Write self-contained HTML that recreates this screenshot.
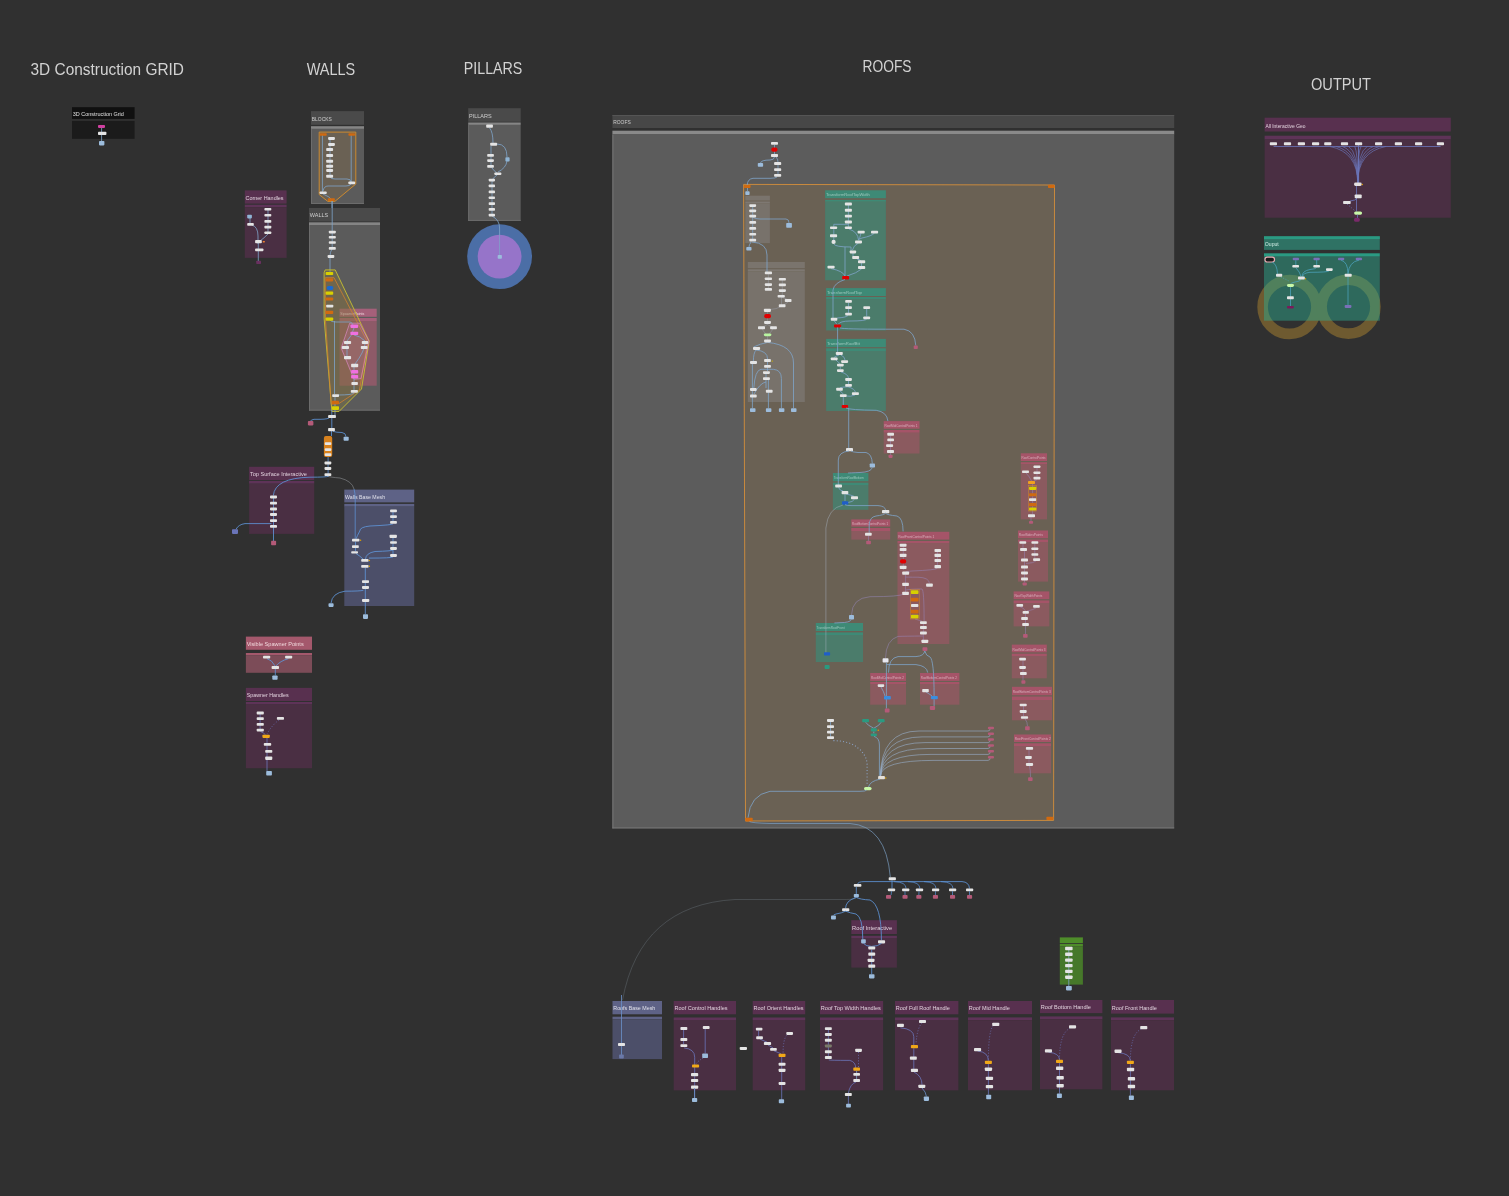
<!DOCTYPE html>
<html><head><meta charset="utf-8"><title>Network</title>
<style>html,body{margin:0;padding:0;background:#303030;overflow:hidden}
svg{display:block;font-family:"Liberation Sans",sans-serif;will-change:transform}</style></head>
<body><svg width="1509" height="1196" viewBox="0 0 1509 1196">
<rect width="1509" height="1196" fill="#303030"/>
<text x="30.5" y="75.4" font-size="17" fill="#d2d2d2" text-anchor="start" textLength="153.5" lengthAdjust="spacingAndGlyphs" >3D Construction GRID</text>
<text x="306.7" y="75.3" font-size="17" fill="#d2d2d2" text-anchor="start" textLength="48.5" lengthAdjust="spacingAndGlyphs" >WALLS</text>
<text x="463.8" y="74" font-size="17" fill="#d2d2d2" text-anchor="start" textLength="58.5" lengthAdjust="spacingAndGlyphs" >PILLARS</text>
<text x="862.5" y="71.9" font-size="17" fill="#d2d2d2" text-anchor="start" textLength="49" lengthAdjust="spacingAndGlyphs" >ROOFS</text>
<text x="1311" y="89.8" font-size="17" fill="#d2d2d2" text-anchor="start" textLength="60" lengthAdjust="spacingAndGlyphs" >OUTPUT</text>
<rect x="72.0" y="107.2" width="62.6" height="11.7" fill="#101010" />
<rect x="72.0" y="120.9" width="62.6" height="0.0" fill="#101010" />
<rect x="72.0" y="120.9" width="62.6" height="17.9" fill="#1b1b1b" />
<text x="72.8" y="115.6" font-size="5" fill="#e0e0e0" text-anchor="start" textLength="51" lengthAdjust="spacingAndGlyphs" >3D Construction Grid</text>
<rect x="311.0" y="111.1" width="53.0" height="13.7" fill="#4a4a4a" />
<rect x="311.0" y="126.2" width="53.0" height="2.7" fill="#858585" />
<rect x="311.0" y="128.9" width="53.0" height="75.1" fill="#5b5b5b" />
<rect x="311.0" y="128.9" width="1.0" height="75.1" fill="#6c6c6c" />
<rect x="311.0" y="203.0" width="53.0" height="1.0" fill="#6c6c6c" />
<text x="311.8" y="120.6" font-size="5.5" fill="#cfcfcf" text-anchor="start" textLength="20" lengthAdjust="spacingAndGlyphs" >BLOCKS</text>
<rect x="309.0" y="208.0" width="71.0" height="13.5" fill="#4a4a4a" />
<rect x="309.0" y="222.3" width="71.0" height="2.7" fill="#858585" />
<rect x="309.0" y="225.0" width="71.0" height="185.6" fill="#5b5b5b" />
<rect x="309.0" y="225.0" width="1.0" height="185.6" fill="#6c6c6c" />
<rect x="309.0" y="409.6" width="71.0" height="1.0" fill="#6c6c6c" />
<text x="309.8" y="217.4" font-size="5.5" fill="#cfcfcf" text-anchor="start" >WALLS</text>
<rect x="244.8" y="190.4" width="41.8" height="13.2" fill="#58304f" />
<rect x="244.8" y="204.7" width="41.8" height="2.5" fill="#5e3358" />
<rect x="244.8" y="207.2" width="41.8" height="50.7" fill="#4a2f43" />
<text x="245.60000000000002" y="199.7" font-size="5.5" fill="#e0d0dc" text-anchor="start" textLength="38" lengthAdjust="spacingAndGlyphs" >Corner Handles</text>
<rect x="339.5" y="308.7" width="37.2" height="8.1" fill="#a5607a" />
<rect x="339.5" y="318.0" width="37.2" height="3.0" fill="#a5607a" />
<rect x="339.5" y="321.0" width="37.2" height="64.7" fill="#8d5a68" />
<text x="340.3" y="314.7" font-size="3.5" fill="#f0d8e0" text-anchor="start" textLength="24" lengthAdjust="spacingAndGlyphs" >SpawnerPoints</text>
<rect x="468.2" y="108.2" width="52.5" height="13.6" fill="#4a4a4a" />
<rect x="468.2" y="122.5" width="52.5" height="2.4" fill="#858585" />
<rect x="468.2" y="124.9" width="52.5" height="96.0" fill="#5b5b5b" />
<rect x="468.2" y="124.9" width="1.0" height="96.0" fill="#6c6c6c" />
<rect x="468.2" y="219.9" width="52.5" height="1.0" fill="#6c6c6c" />
<text x="469.0" y="117.7" font-size="5.5" fill="#cfcfcf" text-anchor="start" >PILLARS</text>
<rect x="249.1" y="466.8" width="65.1" height="13.2" fill="#58304f" />
<rect x="249.1" y="480.9" width="65.1" height="2.8" fill="#5e3358" />
<rect x="249.1" y="483.7" width="65.1" height="50.2" fill="#4a2f43" />
<text x="249.9" y="476.1" font-size="5.5" fill="#e0d0dc" text-anchor="start" textLength="57" lengthAdjust="spacingAndGlyphs" >Top Surface Interactive</text>
<rect x="344.3" y="489.6" width="69.9" height="12.8" fill="#5e6286" />
<rect x="344.3" y="503.9" width="69.9" height="2.8" fill="#5e6286" />
<rect x="344.3" y="506.7" width="69.9" height="99.3" fill="#4c4f69" />
<text x="345.1" y="498.7" font-size="5.5" fill="#e0e0ea" text-anchor="start" textLength="40" lengthAdjust="spacingAndGlyphs" >Walls Base Mesh</text>
<rect x="245.9" y="636.6" width="66.1" height="13.2" fill="#a4586c" />
<rect x="245.9" y="653.0" width="66.1" height="2.5" fill="#a4586c" />
<rect x="245.9" y="655.5" width="66.1" height="17.3" fill="#7c4c58" />
<text x="246.70000000000002" y="645.9" font-size="5.5" fill="#f0d8dc" text-anchor="start" textLength="57" lengthAdjust="spacingAndGlyphs" >Visible Spawner Points</text>
<rect x="245.9" y="687.9" width="66.1" height="13.1" fill="#58304f" />
<rect x="245.9" y="702.0" width="66.1" height="2.5" fill="#5e3358" />
<rect x="245.9" y="704.5" width="66.1" height="63.7" fill="#4a2f43" />
<text x="246.70000000000002" y="697.1" font-size="5.5" fill="#e0d0dc" text-anchor="start" textLength="42" lengthAdjust="spacingAndGlyphs" >Spawner Handles</text>
<circle cx="499.6" cy="256.7" r="32.4" fill="#4b6ea6"/>
<circle cx="499.6" cy="256.7" r="21.9" fill="#9674c9"/>
<rect x="612.4" y="115.0" width="561.8" height="13.0" fill="#474747" />
<rect x="612.4" y="130.7" width="561.8" height="3.8" fill="#8a8a8a" />
<rect x="612.4" y="134.5" width="561.8" height="693.9" fill="#5c5c5c" />
<text x="613.1999999999999" y="124.2" font-size="5.5" fill="#cfcfcf" text-anchor="start" textLength="17.5" lengthAdjust="spacingAndGlyphs" >ROOFS</text>
<rect x="612.4" y="134.5" width="1.0" height="693.9" fill="#767676" />
<rect x="612.4" y="827.4" width="561.8" height="1.0" fill="#767676" />
<rect x="612.4" y="115.0" width="561.8" height="1.0" fill="#555555" />
<polygon points="743.6,184.4 1054.5,185 1053.6,820.4 745.5,821" fill="#6a6154" stroke="#c98a3e" stroke-width="1"/>
<rect x="745.3" y="195.7" width="24.6" height="4.8" fill="#7a746d" />
<rect x="745.3" y="201.5" width="24.6" height="2.0" fill="#7e7872" />
<rect x="745.3" y="203.5" width="24.6" height="39.6" fill="#78726b" />
<rect x="747.8" y="262.0" width="57.0" height="6.2" fill="#7a746d" />
<rect x="747.8" y="269.3" width="57.0" height="2.1" fill="#7e7872" />
<rect x="747.8" y="271.4" width="57.0" height="130.6" fill="#78726b" />
<rect x="825.1" y="190.3" width="60.8" height="7.9" fill="#3e8a76" />
<rect x="825.1" y="199.9" width="60.8" height="1.9" fill="#3e8a76" />
<rect x="825.1" y="201.8" width="60.8" height="78.5" fill="#4b7c6b" />
<text x="825.9" y="196.4" font-size="4" fill="#9cc8bc" text-anchor="start" textLength="44" lengthAdjust="spacingAndGlyphs" >TransformRoofTopWidth</text>
<rect x="826.1" y="288.1" width="59.8" height="7.9" fill="#3e8a76" />
<rect x="826.1" y="297.0" width="59.8" height="2.6" fill="#3e8a76" />
<rect x="826.1" y="299.6" width="59.8" height="30.9" fill="#4b7c6b" />
<text x="826.9" y="294.2" font-size="4" fill="#9cc8bc" text-anchor="start" textLength="35" lengthAdjust="spacingAndGlyphs" >TransformRoofTop</text>
<rect x="826.1" y="338.9" width="59.8" height="8.3" fill="#3e8a76" />
<rect x="826.1" y="348.3" width="59.8" height="2.7" fill="#3e8a76" />
<rect x="826.1" y="351.0" width="59.8" height="60.0" fill="#4b7c6b" />
<text x="826.9" y="345.2" font-size="4" fill="#9cc8bc" text-anchor="start" textLength="33" lengthAdjust="spacingAndGlyphs" >TransformRoofBtt</text>
<rect x="883.7" y="421.1" width="35.8" height="7.6" fill="#a55468" />
<rect x="883.7" y="430.0" width="35.8" height="2.8" fill="#a55468" />
<rect x="883.7" y="432.8" width="35.8" height="20.7" fill="#8b5a5f" />
<text x="884.5" y="426.9" font-size="3.5" fill="#d8b0bc" text-anchor="start" textLength="33" lengthAdjust="spacingAndGlyphs" >RoofMidControlPoints 1</text>
<rect x="832.9" y="473.0" width="35.5" height="8.3" fill="#3e8a76" />
<rect x="832.9" y="482.6" width="35.5" height="2.4" fill="#3e8a76" />
<rect x="832.9" y="485.0" width="35.5" height="24.8" fill="#4b7c6b" />
<text x="833.6999999999999" y="479.1" font-size="3.5" fill="#9cc8bc" text-anchor="start" textLength="30" lengthAdjust="spacingAndGlyphs" >TransformRoofBottom</text>
<rect x="851.3" y="519.4" width="38.9" height="7.2" fill="#a55468" />
<rect x="851.3" y="528.0" width="38.9" height="3.0" fill="#a55468" />
<rect x="851.3" y="531.0" width="38.9" height="8.6" fill="#8b5a5f" />
<text x="852.0999999999999" y="525.0" font-size="3.5" fill="#d8b0bc" text-anchor="start" textLength="36" lengthAdjust="spacingAndGlyphs" >RoofBottomControlPoints 1</text>
<rect x="897.5" y="531.8" width="51.8" height="7.8" fill="#a55468" />
<rect x="897.5" y="541.0" width="51.8" height="2.5" fill="#a55468" />
<rect x="897.5" y="543.5" width="51.8" height="100.5" fill="#8b5a5f" />
<text x="898.3" y="537.7" font-size="3.5" fill="#d8b0bc" text-anchor="start" textLength="36" lengthAdjust="spacingAndGlyphs" >RoofFrontControlPoints 1</text>
<rect x="815.8" y="623.0" width="47.2" height="8.0" fill="#3e8a76" />
<rect x="815.8" y="632.4" width="47.2" height="2.6" fill="#3e8a76" />
<rect x="815.8" y="635.0" width="47.2" height="27.0" fill="#4b7c6b" />
<text x="816.5999999999999" y="629.0" font-size="3.5" fill="#9cc8bc" text-anchor="start" textLength="28" lengthAdjust="spacingAndGlyphs" >TransformRoofFront</text>
<rect x="870.2" y="673.0" width="35.8" height="7.9" fill="#a55468" />
<rect x="870.2" y="682.0" width="35.8" height="2.0" fill="#a55468" />
<rect x="870.2" y="684.0" width="35.8" height="20.7" fill="#8b5a5f" />
<text x="871.0" y="678.9" font-size="3.5" fill="#d8b0bc" text-anchor="start" textLength="33" lengthAdjust="spacingAndGlyphs" >RoofMidControlPoints 2</text>
<rect x="920.0" y="673.0" width="39.4" height="7.9" fill="#a55468" />
<rect x="920.0" y="682.0" width="39.4" height="2.0" fill="#a55468" />
<rect x="920.0" y="684.0" width="39.4" height="20.7" fill="#8b5a5f" />
<text x="920.8" y="678.9" font-size="3.5" fill="#d8b0bc" text-anchor="start" textLength="36" lengthAdjust="spacingAndGlyphs" >RoofBottomControlPoints 2</text>
<rect x="1020.8" y="453.3" width="26.2" height="7.7" fill="#a55468" />
<rect x="1020.8" y="462.2" width="26.2" height="2.3" fill="#a55468" />
<rect x="1020.8" y="464.5" width="26.2" height="54.9" fill="#8b5a5f" />
<text x="1021.5999999999999" y="459.1" font-size="3.5" fill="#d8b0bc" text-anchor="start" textLength="24" lengthAdjust="spacingAndGlyphs" >RoofControlPoints</text>
<rect x="1018.0" y="530.5" width="30.0" height="7.8" fill="#a55468" />
<rect x="1018.0" y="539.5" width="30.0" height="2.5" fill="#a55468" />
<rect x="1018.0" y="542.0" width="30.0" height="39.6" fill="#8b5a5f" />
<text x="1018.8" y="536.4" font-size="3.5" fill="#d8b0bc" text-anchor="start" textLength="24" lengthAdjust="spacingAndGlyphs" >RoofSidesPoints</text>
<rect x="1013.6" y="591.4" width="35.7" height="7.8" fill="#a55468" />
<rect x="1013.6" y="600.4" width="35.7" height="2.6" fill="#a55468" />
<rect x="1013.6" y="603.0" width="35.7" height="23.4" fill="#8b5a5f" />
<text x="1014.4" y="597.3" font-size="3.5" fill="#d8b0bc" text-anchor="start" textLength="28" lengthAdjust="spacingAndGlyphs" >RoofTopWidthPoints</text>
<rect x="1011.8" y="644.6" width="35.0" height="7.8" fill="#a55468" />
<rect x="1011.8" y="653.6" width="35.0" height="2.4" fill="#a55468" />
<rect x="1011.8" y="656.0" width="35.0" height="22.3" fill="#8b5a5f" />
<text x="1012.5999999999999" y="650.5" font-size="3.5" fill="#d8b0bc" text-anchor="start" textLength="33" lengthAdjust="spacingAndGlyphs" >RoofMidControlPoints 3</text>
<rect x="1012.0" y="686.8" width="40.0" height="8.5" fill="#a55468" />
<rect x="1012.0" y="696.5" width="40.0" height="3.5" fill="#a55468" />
<rect x="1012.0" y="700.0" width="40.0" height="20.3" fill="#8b5a5f" />
<text x="1012.8" y="693.0" font-size="3.5" fill="#d8b0bc" text-anchor="start" textLength="38" lengthAdjust="spacingAndGlyphs" >RoofBottomControlPoints 3</text>
<rect x="1014.0" y="734.5" width="37.0" height="7.5" fill="#a55468" />
<rect x="1014.0" y="743.3" width="37.0" height="2.7" fill="#a55468" />
<rect x="1014.0" y="746.0" width="37.0" height="27.3" fill="#8b5a5f" />
<text x="1014.8" y="740.2" font-size="3.5" fill="#d8b0bc" text-anchor="start" textLength="36" lengthAdjust="spacingAndGlyphs" >RoofFrontControlPoints 2</text>
<rect x="1264.6" y="117.7" width="186.2" height="13.8" fill="#58304f" />
<rect x="1264.6" y="135.7" width="186.2" height="3.8" fill="#5e3358" />
<rect x="1264.6" y="139.5" width="186.2" height="78.2" fill="#4a2f43" />
<text x="1265.3999999999999" y="127.5" font-size="6" fill="#e0d0dc" text-anchor="start" textLength="40" lengthAdjust="spacingAndGlyphs" >All  Interactive Geo</text>
<circle cx="1289.5" cy="307" r="26.9" fill="none" stroke="#6e5a30" stroke-width="10.6"/><circle cx="1348.5" cy="306.7" r="26.9" fill="none" stroke="#6e5a30" stroke-width="10.6"/>
<rect x="1264.0" y="236.3" width="115.8" height="13.6" fill="#2f7264" />
<rect x="1264.0" y="253.3" width="115.8" height="3.2" fill="#2a9a82" />
<rect x="1264.0" y="256.5" width="115.8" height="64.2" fill="rgba(44,175,146,0.45)" />
<text x="1264.8" y="246.0" font-size="6" fill="#d0ece4" text-anchor="start" textLength="14" lengthAdjust="spacingAndGlyphs" >Ouput</text>
<rect x="1264.0" y="236.3" width="115.8" height="2.8" fill="#2a9a82" />
<rect x="851.3" y="920.2" width="45.6" height="13.8" fill="#58304f" />
<rect x="851.3" y="935.8" width="45.6" height="2.2" fill="#5e3358" />
<rect x="851.3" y="938.0" width="45.6" height="29.6" fill="#4a2f43" />
<text x="852.0999999999999" y="929.8" font-size="5.5" fill="#e0d0dc" text-anchor="start" textLength="40" lengthAdjust="spacingAndGlyphs" >Roof Interactive</text>
<rect x="1059.8" y="937.4" width="23.1" height="5.8" fill="#4e8c2a" />
<rect x="1059.8" y="944.0" width="23.1" height="2.5" fill="#4e8c2a" />
<rect x="1059.8" y="946.5" width="23.1" height="38.1" fill="#46782a" />
<rect x="612.5" y="1001.0" width="49.5" height="13.3" fill="#5e6286" />
<rect x="612.5" y="1016.7" width="49.5" height="2.6" fill="#5e6286" />
<rect x="612.5" y="1019.3" width="49.5" height="39.8" fill="#4c4f69" />
<text x="613.3" y="1010.3" font-size="5.5" fill="#e0e0ea" text-anchor="start" textLength="42" lengthAdjust="spacingAndGlyphs" >Roofs Base Mesh</text>
<rect x="673.7" y="1001.0" width="62.3" height="13.3" fill="#58304f" />
<rect x="673.7" y="1017.5" width="62.3" height="2.5" fill="#5e3358" />
<rect x="673.7" y="1020.0" width="62.3" height="70.4" fill="#4a2f43" />
<text x="674.5" y="1010.3" font-size="5.5" fill="#e0d0dc" text-anchor="start" textLength="53" lengthAdjust="spacingAndGlyphs" >Roof Control Handles</text>
<rect x="752.7" y="1001.0" width="52.5" height="13.3" fill="#58304f" />
<rect x="752.7" y="1017.5" width="52.5" height="2.5" fill="#5e3358" />
<rect x="752.7" y="1020.0" width="52.5" height="70.4" fill="#4a2f43" />
<text x="753.5" y="1010.3" font-size="5.5" fill="#e0d0dc" text-anchor="start" textLength="50" lengthAdjust="spacingAndGlyphs" >Roof Orient Handles</text>
<rect x="820.0" y="1001.0" width="63.1" height="13.3" fill="#58304f" />
<rect x="820.0" y="1017.5" width="63.1" height="2.5" fill="#5e3358" />
<rect x="820.0" y="1020.0" width="63.1" height="70.4" fill="#4a2f43" />
<text x="820.8" y="1010.3" font-size="5.5" fill="#e0d0dc" text-anchor="start" textLength="60" lengthAdjust="spacingAndGlyphs" >Roof Top Width Handles</text>
<rect x="895.0" y="1001.0" width="63.4" height="13.3" fill="#58304f" />
<rect x="895.0" y="1017.5" width="63.4" height="2.5" fill="#5e3358" />
<rect x="895.0" y="1020.0" width="63.4" height="70.4" fill="#4a2f43" />
<text x="895.8" y="1010.3" font-size="5.5" fill="#e0d0dc" text-anchor="start" textLength="54" lengthAdjust="spacingAndGlyphs" >Roof Full Roof Handle</text>
<rect x="968.0" y="1001.0" width="64.0" height="13.1" fill="#58304f" />
<rect x="968.0" y="1017.4" width="64.0" height="2.8" fill="#5e3358" />
<rect x="968.0" y="1020.2" width="64.0" height="70.1" fill="#4a2f43" />
<text x="968.8" y="1010.2" font-size="5.5" fill="#e0d0dc" text-anchor="start" textLength="41" lengthAdjust="spacingAndGlyphs" >Roof Mid Handle</text>
<rect x="1040.0" y="1000.0" width="62.4" height="13.1" fill="#58304f" />
<rect x="1040.0" y="1016.4" width="62.4" height="2.8" fill="#5e3358" />
<rect x="1040.0" y="1019.2" width="62.4" height="70.1" fill="#4a2f43" />
<text x="1040.8" y="1009.2" font-size="5.5" fill="#e0d0dc" text-anchor="start" textLength="50" lengthAdjust="spacingAndGlyphs" >Roof Bottom Handle</text>
<rect x="1111.0" y="1000.0" width="63.0" height="13.6" fill="#58304f" />
<rect x="1111.0" y="1017.4" width="63.0" height="2.8" fill="#5e3358" />
<rect x="1111.0" y="1020.2" width="63.0" height="70.1" fill="#4a2f43" />
<text x="1111.8" y="1009.5" font-size="5.5" fill="#e0d0dc" text-anchor="start" textLength="45" lengthAdjust="spacingAndGlyphs" >Roof Front Handle</text>
<polygon points="319.2,132.1 355.8,132.1 355.8,184.0 334.9,201.4 327.8,201.4 319.2,194.6" fill="#6a6154" fill-opacity="1" stroke="#cc8a30" stroke-width="1" stroke-opacity="1"/>
<path d="M322.4,135 V192" fill="none" stroke="#7ea3c8" stroke-width="0.9" stroke-opacity="0.9" />
<path d="M351.2,135 V182" fill="none" stroke="#7ea3c8" stroke-width="0.9" stroke-opacity="0.9" />
<path d="M330,139 V176" fill="none" stroke="#7ea3c8" stroke-width="0.9" stroke-opacity="0.9" />
<path d="M330,177 Q331,179 335,179 H347 Q351,179 351,182" fill="none" stroke="#7ea3c8" stroke-width="0.9" stroke-opacity="0.9" />
<path d="M351,184 Q350,186 346,186 H328 Q324,186 323,191" fill="none" stroke="#7ea3c8" stroke-width="0.9" stroke-opacity="0.9" />
<path d="M323,194 Q330,197 331,199" fill="none" stroke="#7ea3c8" stroke-width="0.9" stroke-opacity="0.9" />
<path d="M332,201 V208" fill="none" stroke="#7ea3c8" stroke-width="0.9" stroke-opacity="0.9" />
<rect x="319.6" y="133.2" width="7.1" height="2.5" rx="0.8" fill="#d06a10"/>
<rect x="348.4" y="133.2" width="6.7" height="2.5" rx="0.8" fill="#d06a10"/>
<rect x="328.1" y="137.1" width="6.8" height="2.8" rx="0.8" fill="#e4e4e4"/>
<rect x="328.1" y="143.1" width="6.8" height="2.8" rx="0.8" fill="#e4e4e4"/>
<rect x="326.2" y="148.1" width="6.9" height="2.9" rx="0.8" fill="#e4e4e4"/>
<rect x="326.2" y="154.1" width="6.9" height="2.9" rx="0.8" fill="#e4e4e4"/>
<rect x="326.2" y="159.8" width="6.9" height="2.9" rx="0.8" fill="#e4e4e4"/>
<rect x="326.2" y="164.8" width="6.9" height="2.9" rx="0.8" fill="#e4e4e4"/>
<rect x="326.2" y="169.0" width="6.9" height="2.9" rx="0.8" fill="#e4e4e4"/>
<rect x="326.2" y="174.8" width="6.9" height="2.9" rx="0.8" fill="#e4e4e4"/>
<rect x="348.4" y="181.5" width="6.7" height="2.8" rx="0.8" fill="#e4e4e4"/>
<rect x="319.6" y="191.5" width="7.1" height="2.5" rx="0.8" fill="#e4e4e4"/>
<rect x="327.8" y="198.2" width="7.1" height="2.8" rx="0.8" fill="#d06a10"/>
<path d="M332.2,201 V249" fill="none" stroke="#7ea3c8" stroke-width="0.9" stroke-opacity="0.9" />
<path d="M332,249 Q330,252 330,256 V272" fill="none" stroke="#7ea3c8" stroke-width="0.9" stroke-opacity="0.9" />
<rect x="328.8" y="230.8" width="7.0" height="2.6" rx="0.8" fill="#e4e4e4"/>
<rect x="328.8" y="236.0" width="7.0" height="2.6" rx="0.8" fill="#e4e4e4"/>
<rect x="328.8" y="241.2" width="7.0" height="2.6" rx="0.8" fill="#e4e4e4"/>
<rect x="328.8" y="247.1" width="7.0" height="2.6" rx="0.8" fill="#e4e4e4"/>
<rect x="327.6" y="254.9" width="6.7" height="3.0" rx="0.8" fill="#e4e4e4"/>
<polygon points="325.2,269.9 335.2,269.9 369.2,341.0 361.5,389.0 339.0,411.5 331.9,411.5 324.1,318.2 324.1,272.7" fill="#857a40" fill-opacity="0.35" stroke="#c8c030" stroke-width="0.9" stroke-opacity="1"/>
<polygon points="325.2,277.7 334.0,277.7 367.5,342.0 359.5,390.0 339.0,403.5 331.2,404.2 325.5,321.0" fill="#8a6a40" fill-opacity="0.2" stroke="#d08030" stroke-width="0.8" stroke-opacity="1"/>
<polygon points="349.7,323.2 359.6,323.2 368.9,341.0 361.0,378.6 354.0,379.3 341.2,348.0" fill="#c070a0" fill-opacity="0.25" stroke="#d888c0" stroke-width="0.7" stroke-opacity="1"/>
<path d="M330,320 Q331,322 336,322 H350 Q352,322 353,325" fill="none" stroke="#7ea3c8" stroke-width="0.9" stroke-opacity="0.9" />
<path d="M334.5,321 V394" fill="none" stroke="#7ea3c8" stroke-width="0.9" stroke-opacity="0.9" />
<path d="M354,328 Q352,336 347,341" fill="none" stroke="#7ea3c8" stroke-width="0.9" stroke-opacity="0.9" />
<path d="M354,335 Q360,336 365,341" fill="none" stroke="#7ea3c8" stroke-width="0.9" stroke-opacity="0.9" />
<path d="M347,344 V356" fill="none" stroke="#7ea3c8" stroke-width="0.9" stroke-opacity="0.9" />
<path d="M365,344 Q364,352 355,364" fill="none" stroke="#7ea3c8" stroke-width="0.9" stroke-opacity="0.9" />
<path d="M354,367 V382" fill="none" stroke="#7ea3c8" stroke-width="0.9" stroke-opacity="0.9" />
<path d="M354,385 V390" fill="none" stroke="#7ea3c8" stroke-width="0.9" stroke-opacity="0.9" />
<path d="M354,393 Q352,395 338,395" fill="none" stroke="#7ea3c8" stroke-width="0.9" stroke-opacity="0.9" />
<path d="M335,397 V401" fill="none" stroke="#7ea3c8" stroke-width="0.9" stroke-opacity="0.9" />
<path d="M335,404 V406" fill="none" stroke="#7ea3c8" stroke-width="0.9" stroke-opacity="0.9" />
<path d="M335,410 V418" fill="none" stroke="#7ea3c8" stroke-width="0.9" stroke-opacity="0.9" />
<rect x="325.6" y="271.9" width="7.6" height="3.2" rx="0.8" fill="#d8d000"/>
<rect x="325.6" y="278.2" width="7.6" height="3.2" rx="0.8" fill="#d06a10"/>
<rect x="325.6" y="291.6" width="7.6" height="3.2" rx="0.8" fill="#d8d000"/>
<rect x="325.6" y="297.4" width="7.6" height="3.2" rx="0.8" fill="#d06a10"/>
<rect x="325.6" y="310.8" width="7.6" height="3.2" rx="0.8" fill="#d06a10"/>
<rect x="325.6" y="317.5" width="7.6" height="3.2" rx="0.8" fill="#d8d000"/>
<rect x="326.7" y="286.1" width="6.7" height="3.8" rx="2" fill="#1a6ad0"/>
<rect x="326.2" y="304.7" width="7.1" height="2.9" rx="0.8" fill="#e4e4e4"/>
<rect x="350.4" y="324.6" width="7.8" height="3.3" rx="0.8" fill="#f070e0"/>
<rect x="350.4" y="331.7" width="7.8" height="3.3" rx="0.8" fill="#f070e0"/>
<rect x="344.0" y="341.0" width="7.1" height="3.1" rx="0.8" fill="#e4e4e4"/>
<rect x="361.8" y="341.0" width="6.4" height="3.1" rx="0.8" fill="#e4e4e4"/>
<rect x="341.9" y="346.0" width="7.1" height="3.0" rx="0.8" fill="#e4e4e4"/>
<rect x="360.8" y="346.0" width="6.7" height="3.0" rx="0.8" fill="#e4e4e4"/>
<rect x="344.0" y="355.9" width="7.1" height="3.3" rx="0.8" fill="#e4e4e4"/>
<rect x="351.1" y="363.7" width="7.1" height="3.6" rx="0.8" fill="#e4e4e4"/>
<rect x="351.1" y="370.1" width="7.1" height="3.5" rx="0.8" fill="#f070e0"/>
<rect x="351.1" y="375.0" width="7.1" height="3.6" rx="0.8" fill="#f070e0"/>
<rect x="351.4" y="381.9" width="6.5" height="3.1" rx="0.8" fill="#e4e4e4"/>
<rect x="350.8" y="390.0" width="7.1" height="2.8" rx="0.8" fill="#e4e4e4"/>
<rect x="332.2" y="394.3" width="6.8" height="2.8" rx="0.8" fill="#e4e4e4"/>
<rect x="331.9" y="400.7" width="7.1" height="3.5" rx="0.8" fill="#d06a10"/>
<rect x="331.9" y="406.3" width="7.1" height="3.6" rx="0.8" fill="#d8d000"/>
<path d="M250,218 V223" fill="none" stroke="#7ea3c8" stroke-width="0.9" stroke-opacity="0.9" />
<path d="M252,225 Q258,227 258,236 V244" fill="none" stroke="#7ea3c8" stroke-width="0.9" stroke-opacity="0.9" />
<path d="M268,210 V232" fill="none" stroke="#7ea3c8" stroke-width="0.9" stroke-opacity="0.9" />
<path d="M268,234 Q264,238 260,241" fill="none" stroke="#7ea3c8" stroke-width="0.9" stroke-opacity="0.9" />
<path d="M258.3,243 V262" fill="none" stroke="#7ea3c8" stroke-width="0.9" stroke-opacity="0.9" />
<rect x="247.2" y="214.7" width="4.7" height="3.7" rx="0.8" fill="#8fb4d4"/>
<rect x="247.2" y="223.1" width="6.6" height="2.7" rx="0.8" fill="#e4e4e4"/>
<rect x="264.4" y="207.9" width="6.9" height="2.7" rx="0.8" fill="#e4e4e4"/>
<rect x="264.4" y="213.9" width="6.9" height="2.7" rx="0.8" fill="#e4e4e4"/>
<rect x="264.4" y="220.0" width="6.9" height="2.7" rx="0.8" fill="#e4e4e4"/>
<rect x="264.4" y="225.8" width="6.9" height="2.7" rx="0.8" fill="#e4e4e4"/>
<rect x="264.4" y="231.4" width="6.9" height="2.7" rx="0.8" fill="#e4e4e4"/>
<rect x="255.1" y="240.1" width="6.7" height="3.2" rx="0.8" fill="#e4e4e4"/>
<rect x="262.6" y="241.0" width="2.4" height="1.6" rx="0.8" fill="#f08030"/>
<rect x="255.1" y="248.5" width="8.3" height="2.7" rx="0.8" fill="#e4e4e4"/>
<rect x="256.2" y="260.8" width="4.8" height="3.2" rx="0.8" fill="#6a3060"/>
<path d="M489.5,127.8 Q493,132 493,143" fill="none" stroke="#7ea3c8" stroke-width="0.9" stroke-opacity="0.9" />
<path d="M497,144 Q507,144 507,157" fill="none" stroke="#7ea3c8" stroke-width="0.9" stroke-opacity="0.9" />
<path d="M507,161 Q506,168 498,172" fill="none" stroke="#7ea3c8" stroke-width="0.9" stroke-opacity="0.9" />
<path d="M491,146 V168" fill="none" stroke="#7ea3c8" stroke-width="0.9" stroke-opacity="0.9" />
<path d="M492,168 Q494,171 497,173" fill="none" stroke="#7ea3c8" stroke-width="0.9" stroke-opacity="0.9" />
<path d="M497,175 Q492,178 492,182 V214" fill="none" stroke="#7ea3c8" stroke-width="0.9" stroke-opacity="0.9" />
<path d="M492,216 Q499.6,220 499.6,228 V255" fill="none" stroke="#7ea3c8" stroke-width="0.9" stroke-opacity="0.9" />
<rect x="486.2" y="124.5" width="6.7" height="3.3" rx="0.8" fill="#e4e4e4"/>
<rect x="490.2" y="142.7" width="6.9" height="3.1" rx="0.8" fill="#e4e4e4"/>
<rect x="505.4" y="157.3" width="4.2" height="4.2" rx="0.8" fill="#8fb4d4"/>
<rect x="487.2" y="154.0" width="6.7" height="2.7" rx="0.8" fill="#e4e4e4"/>
<rect x="487.2" y="159.2" width="6.7" height="2.7" rx="0.8" fill="#e4e4e4"/>
<rect x="487.2" y="165.0" width="6.7" height="2.7" rx="0.8" fill="#e4e4e4"/>
<rect x="494.4" y="172.4" width="6.9" height="2.7" rx="0.8" fill="#e4e4e4"/>
<rect x="488.7" y="178.7" width="6.3" height="2.7" rx="0.8" fill="#e4e4e4"/>
<rect x="488.7" y="184.5" width="6.3" height="2.7" rx="0.8" fill="#e4e4e4"/>
<rect x="488.7" y="190.6" width="6.3" height="2.7" rx="0.8" fill="#e4e4e4"/>
<rect x="488.7" y="196.4" width="6.3" height="2.7" rx="0.8" fill="#e4e4e4"/>
<rect x="488.7" y="202.3" width="6.3" height="2.7" rx="0.8" fill="#e4e4e4"/>
<rect x="488.7" y="208.0" width="6.3" height="2.7" rx="0.8" fill="#e4e4e4"/>
<rect x="488.7" y="213.8" width="6.3" height="2.7" rx="0.8" fill="#e4e4e4"/>
<rect x="497.7" y="255.0" width="4.2" height="3.8" rx="0.8" fill="#9cbcdc"/>
<path d="M774.5,145 V154" fill="none" stroke="#7ea3c8" stroke-width="0.9" stroke-opacity="0.9" />
<path d="M774.5,157 Q774,160 770,160 Q761,160 760.5,163" fill="none" stroke="#7ea3c8" stroke-width="0.9" stroke-opacity="0.9" />
<path d="M776,157 Q778,159 778,162 V176" fill="none" stroke="#7ea3c8" stroke-width="0.9" stroke-opacity="0.9" />
<path d="M777,177 Q776,178.3 770,178.3 H753 Q747.5,179 747.2,185" fill="none" stroke="#7ea3c8" stroke-width="0.9" stroke-opacity="0.9" />
<path d="M747.5,188 V191" fill="none" stroke="#7ea3c8" stroke-width="0.9" stroke-opacity="0.9" />
<rect x="771.0" y="141.9" width="7.0" height="2.9" rx="0.8" fill="#e4e4e4"/>
<rect x="771.3" y="147.5" width="6.2" height="4.3" rx="2" fill="#e00000"/>
<rect x="771.0" y="154.0" width="7.0" height="3.0" rx="0.8" fill="#e4e4e4"/>
<rect x="757.8" y="162.9" width="5.3" height="3.8" rx="0.8" fill="#9cbcdc"/>
<rect x="774.1" y="162.1" width="7.1" height="2.9" rx="0.8" fill="#e4e4e4"/>
<rect x="774.1" y="168.2" width="7.1" height="2.9" rx="0.8" fill="#e4e4e4"/>
<rect x="774.1" y="173.9" width="7.1" height="2.9" rx="0.8" fill="#e4e4e4"/>
<rect x="743.8" y="185.0" width="6.8" height="2.9" rx="0.8" fill="#d06a10"/>
<rect x="745.3" y="191.2" width="4.3" height="3.9" rx="0.8" fill="#9cbcdc"/>
<path d="M752.7,206 V240" fill="none" stroke="#7ea3c8" stroke-width="0.9" stroke-opacity="0.9" />
<path d="M753,217 Q754,219 760,219 H786 Q789,219 789,223" fill="none" stroke="#7ea3c8" stroke-width="0.9" stroke-opacity="0.9" />
<rect x="749.3" y="204.2" width="6.8" height="2.7" rx="0.8" fill="#e4e4e4"/>
<rect x="749.3" y="209.5" width="6.8" height="2.7" rx="0.8" fill="#e4e4e4"/>
<rect x="749.3" y="214.8" width="6.8" height="2.7" rx="0.8" fill="#e4e4e4"/>
<rect x="749.3" y="221.1" width="6.8" height="2.7" rx="0.8" fill="#e4e4e4"/>
<rect x="749.3" y="227.1" width="6.8" height="2.7" rx="0.8" fill="#e4e4e4"/>
<rect x="749.3" y="232.9" width="6.8" height="2.7" rx="0.8" fill="#e4e4e4"/>
<rect x="749.3" y="238.8" width="6.8" height="2.7" rx="0.8" fill="#e4e4e4"/>
<rect x="786.2" y="223.0" width="5.7" height="4.8" rx="0.8" fill="#9cbcdc"/>
<path d="M751,242 Q749,245 749,247" fill="none" stroke="#7ea3c8" stroke-width="0.9" stroke-opacity="0.9" />
<path d="M752,242 Q767,243 767,255 V272" fill="none" stroke="#7ea3c8" stroke-width="0.9" stroke-opacity="0.9" />
<rect x="746.3" y="247.0" width="5.2" height="3.6" rx="0.8" fill="#9cbcdc"/>
<path d="M768.4,274 V289" fill="none" stroke="#a0a8b8" stroke-width="0.9" stroke-opacity="0.45" />
<path d="M782.3,280 V297" fill="none" stroke="#a0a8b8" stroke-width="0.9" stroke-opacity="0.45" />
<path d="M781,297 Q785,298 788,300" fill="none" stroke="#a0a8b8" stroke-width="0.9" stroke-opacity="0.45" />
<path d="M788,302 Q786,304 783,305" fill="none" stroke="#a0a8b8" stroke-width="0.9" stroke-opacity="0.45" />
<path d="M781.5,297 V305" fill="none" stroke="#a0a8b8" stroke-width="0.9" stroke-opacity="0.45" />
<path d="M780,307 Q777,309 770,309.5" fill="none" stroke="#a0a8b8" stroke-width="0.9" stroke-opacity="0.45" />
<path d="M767.4,312 V321" fill="none" stroke="#a0a8b8" stroke-width="0.9" stroke-opacity="0.45" />
<path d="M767.4,324 Q767,326 762,327" fill="none" stroke="#a0a8b8" stroke-width="0.9" stroke-opacity="0.45" />
<path d="M767.4,324 Q768,326 773,327" fill="none" stroke="#a0a8b8" stroke-width="0.9" stroke-opacity="0.45" />
<path d="M762,329 Q764,332 766,334" fill="none" stroke="#a0a8b8" stroke-width="0.9" stroke-opacity="0.45" />
<path d="M773,329 Q771,332 769,334" fill="none" stroke="#a0a8b8" stroke-width="0.9" stroke-opacity="0.45" />
<path d="M767.6,336 V340" fill="none" stroke="#a0a8b8" stroke-width="0.9" stroke-opacity="0.45" />
<path d="M767.6,342.4 Q760,343.8 753.5,347" fill="none" stroke="#7ea3c8" stroke-width="0.9" stroke-opacity="0.9" />
<path d="M767.6,342.4 Q793.5,345 793.5,363 V408" fill="none" stroke="#7ea3c8" stroke-width="0.9" stroke-opacity="0.9" />
<path d="M756,350 Q753.4,353 753.4,361" fill="none" stroke="#7ea3c8" stroke-width="0.9" stroke-opacity="0.9" />
<path d="M756,350 Q767.6,351 767.6,359" fill="none" stroke="#7ea3c8" stroke-width="0.9" stroke-opacity="0.9" />
<path d="M767.5,362 V371" fill="none" stroke="#7ea3c8" stroke-width="0.9" stroke-opacity="0.9" />
<path d="M766,374 V388" fill="none" stroke="#7ea3c8" stroke-width="0.9" stroke-opacity="0.9" />
<path d="M752.4,364 V408" fill="none" stroke="#7ea3c8" stroke-width="0.9" stroke-opacity="0.9" />
<path d="M753.8,388 Q755,370 761,369.3 H773.4 Q781.4,370 781.4,378.5 V408" fill="none" stroke="#7ea3c8" stroke-width="0.9" stroke-opacity="0.9" />
<path d="M768.4,380 V408" fill="none" stroke="#7ea3c8" stroke-width="0.9" stroke-opacity="0.9" />
<path d="M754,394 Q760,383 766,382" fill="none" stroke="#7ea3c8" stroke-width="0.9" stroke-opacity="0.9" />
<rect x="764.8" y="271.6" width="7.2" height="2.6" rx="0.8" fill="#e4e4e4"/>
<rect x="764.8" y="277.4" width="7.2" height="2.6" rx="0.8" fill="#e4e4e4"/>
<rect x="764.8" y="283.3" width="7.2" height="2.6" rx="0.8" fill="#e4e4e4"/>
<rect x="764.8" y="288.0" width="7.2" height="2.8" rx="0.8" fill="#e4e4e4"/>
<rect x="778.8" y="278.0" width="7.1" height="2.6" rx="0.8" fill="#e4e4e4"/>
<rect x="778.8" y="283.6" width="7.1" height="2.7" rx="0.8" fill="#e4e4e4"/>
<rect x="778.8" y="289.3" width="7.1" height="2.6" rx="0.8" fill="#e4e4e4"/>
<rect x="777.6" y="294.9" width="7.2" height="2.7" rx="0.8" fill="#e4e4e4"/>
<rect x="784.8" y="299.0" width="6.7" height="3.0" rx="0.8" fill="#e4e4e4"/>
<rect x="778.8" y="304.3" width="6.7" height="2.9" rx="0.8" fill="#e4e4e4"/>
<rect x="763.9" y="308.8" width="7.0" height="3.1" rx="0.8" fill="#e4e4e4"/>
<rect x="764.1" y="320.9" width="6.8" height="3.0" rx="0.8" fill="#e4e4e4"/>
<rect x="758.0" y="326.2" width="7.0" height="3.0" rx="0.8" fill="#e4e4e4"/>
<rect x="770.1" y="326.2" width="6.8" height="3.0" rx="0.8" fill="#e4e4e4"/>
<rect x="764.1" y="339.4" width="6.8" height="3.0" rx="0.8" fill="#e4e4e4"/>
<rect x="753.0" y="346.9" width="7.1" height="3.0" rx="0.8" fill="#e4e4e4"/>
<rect x="764.1" y="359.1" width="6.8" height="2.9" rx="0.8" fill="#e4e4e4"/>
<rect x="750.0" y="361.1" width="7.0" height="2.8" rx="0.8" fill="#e4e4e4"/>
<rect x="764.1" y="365.0" width="6.8" height="2.8" rx="0.8" fill="#e4e4e4"/>
<rect x="763.0" y="371.2" width="6.9" height="2.7" rx="0.8" fill="#e4e4e4"/>
<rect x="763.0" y="377.3" width="6.9" height="2.7" rx="0.8" fill="#e4e4e4"/>
<rect x="750.0" y="388.1" width="6.7" height="2.8" rx="0.8" fill="#e4e4e4"/>
<rect x="765.9" y="389.8" width="6.7" height="2.9" rx="0.8" fill="#e4e4e4"/>
<rect x="750.0" y="394.6" width="6.7" height="3.0" rx="0.8" fill="#e4e4e4"/>
<rect x="764.2" y="314.1" width="6.8" height="4.2" rx="2" fill="#e00000"/>
<rect x="763.8" y="333.4" width="7.6" height="2.9" rx="1.5" fill="#b8f4a0"/>
<rect x="771.5" y="360.4" width="1.5" height="1.4" rx="0.8" fill="#c8b000"/>
<rect x="750.0" y="408.2" width="5.5" height="3.8" rx="0.8" fill="#9cbcdc"/>
<rect x="765.9" y="408.2" width="5.5" height="3.8" rx="0.8" fill="#9cbcdc"/>
<rect x="778.9" y="408.2" width="5.5" height="3.8" rx="0.8" fill="#9cbcdc"/>
<rect x="791.0" y="408.2" width="5.5" height="3.8" rx="0.8" fill="#9cbcdc"/>
<path d="M848.4,205 V227" fill="none" stroke="#7ea3c8" stroke-width="0.9" stroke-opacity="0.9" />
<path d="M848,224.3 H833.8 V241" fill="none" stroke="#7ea3c8" stroke-width="0.9" stroke-opacity="0.9" />
<path d="M833.8,244 Q835,247 851,247 V251" fill="none" stroke="#7ea3c8" stroke-width="0.9" stroke-opacity="0.9" />
<path d="M849,229 Q858,232 858.5,240" fill="none" stroke="#7ea3c8" stroke-width="0.9" stroke-opacity="0.9" />
<path d="M861,233 Q860,238 858.5,240" fill="none" stroke="#7ea3c8" stroke-width="0.9" stroke-opacity="0.9" />
<path d="M874.5,233 Q872,236 862,238 Q859,239 858.5,240" fill="none" stroke="#7ea3c8" stroke-width="0.9" stroke-opacity="0.9" />
<path d="M858.5,243 Q853,246 852.5,250" fill="none" stroke="#7ea3c8" stroke-width="0.9" stroke-opacity="0.9" />
<path d="M853,253 V256" fill="none" stroke="#7ea3c8" stroke-width="0.9" stroke-opacity="0.9" />
<path d="M857,259 Q861,260 861,261" fill="none" stroke="#7ea3c8" stroke-width="0.9" stroke-opacity="0.9" />
<path d="M861.5,263 V266" fill="none" stroke="#7ea3c8" stroke-width="0.9" stroke-opacity="0.9" />
<path d="M845,247 V277" fill="none" stroke="#7ea3c8" stroke-width="0.9" stroke-opacity="0.9" />
<path d="M831,268.6 Q843,271 845,276" fill="none" stroke="#7ea3c8" stroke-width="0.9" stroke-opacity="0.9" />
<path d="M861.5,269 Q857,273 847,276" fill="none" stroke="#7ea3c8" stroke-width="0.9" stroke-opacity="0.9" />
<rect x="844.9" y="202.6" width="7.0" height="2.9" rx="0.8" fill="#e4e4e4"/>
<rect x="844.9" y="208.8" width="7.0" height="3.0" rx="0.8" fill="#e4e4e4"/>
<rect x="844.9" y="214.7" width="7.0" height="2.9" rx="0.8" fill="#e4e4e4"/>
<rect x="844.9" y="220.5" width="7.0" height="3.0" rx="0.8" fill="#e4e4e4"/>
<rect x="844.9" y="226.4" width="7.0" height="2.7" rx="0.8" fill="#e4e4e4"/>
<rect x="830.0" y="226.4" width="7.1" height="2.7" rx="0.8" fill="#e4e4e4"/>
<rect x="830.0" y="234.3" width="7.1" height="3.0" rx="0.8" fill="#e4e4e4"/>
<rect x="857.6" y="230.8" width="7.1" height="2.7" rx="0.8" fill="#e4e4e4"/>
<rect x="871.0" y="230.8" width="7.1" height="2.7" rx="0.8" fill="#e4e4e4"/>
<rect x="855.0" y="240.4" width="7.0" height="3.0" rx="0.8" fill="#e4e4e4"/>
<rect x="849.7" y="250.4" width="6.4" height="3.0" rx="0.8" fill="#e4e4e4"/>
<rect x="852.2" y="255.9" width="6.9" height="3.1" rx="0.8" fill="#e4e4e4"/>
<rect x="858.0" y="260.3" width="7.2" height="2.9" rx="0.8" fill="#e4e4e4"/>
<rect x="858.0" y="266.1" width="7.2" height="2.9" rx="0.8" fill="#e4e4e4"/>
<rect x="827.5" y="265.7" width="7.1" height="2.9" rx="0.8" fill="#e4e4e4"/>
<circle cx="833.6" cy="241.9" r="2.1" fill="#e4e4e4" fill-opacity="1" stroke="none" stroke-width="1" stroke-opacity="1"/>
<rect x="842.2" y="276.1" width="6.9" height="3.4" rx="0.8" fill="#e00000"/>
<path d="M845,279.5 Q834,283 833,290 V318" fill="none" stroke="#7ea3c8" stroke-width="0.9" stroke-opacity="0.9" />
<path d="M848.5,302.8 V313" fill="none" stroke="#7ea3c8" stroke-width="0.9" stroke-opacity="0.9" />
<path d="M866.7,309 V316.5" fill="none" stroke="#7ea3c8" stroke-width="0.9" stroke-opacity="0.9" />
<path d="M848,315.5 Q846,317.5 837,318" fill="none" stroke="#7ea3c8" stroke-width="0.9" stroke-opacity="0.9" />
<path d="M866.7,319 Q866,321 850,321 Q840,321 838,324.5" fill="none" stroke="#7ea3c8" stroke-width="0.9" stroke-opacity="0.9" />
<path d="M834,320.7 Q836,323 837,324.5" fill="none" stroke="#7ea3c8" stroke-width="0.9" stroke-opacity="0.9" />
<rect x="845.2" y="300.1" width="6.7" height="2.7" rx="0.8" fill="#e4e4e4"/>
<rect x="845.2" y="306.3" width="6.7" height="2.7" rx="0.8" fill="#e4e4e4"/>
<rect x="845.2" y="312.8" width="6.7" height="2.7" rx="0.8" fill="#e4e4e4"/>
<rect x="863.3" y="306.3" width="6.8" height="2.7" rx="0.8" fill="#e4e4e4"/>
<rect x="863.3" y="316.5" width="6.8" height="2.7" rx="0.8" fill="#e4e4e4"/>
<rect x="830.8" y="317.8" width="6.5" height="2.9" rx="0.8" fill="#e4e4e4"/>
<rect x="834.0" y="324.5" width="7.1" height="2.9" rx="0.8" fill="#e00000"/>
<path d="M837.6,327.4 V352" fill="none" stroke="#7ea3c8" stroke-width="0.9" stroke-opacity="0.9" />
<path d="M840,328 Q845,329.2 885.6,329.2 H904 Q915,331 915.8,345.6" fill="none" stroke="#7ea3c8" stroke-width="0.9" stroke-opacity="0.9" />
<rect x="913.7" y="345.6" width="4.1" height="3.5" rx="0.8" fill="#b45a78"/>
<path d="M839,355 Q836,356 834,357.5" fill="none" stroke="#7ea3c8" stroke-width="0.9" stroke-opacity="0.9" />
<path d="M841,355 Q845,357 845,360" fill="none" stroke="#7ea3c8" stroke-width="0.9" stroke-opacity="0.9" />
<path d="M836,360 Q838,362 840,363.7" fill="none" stroke="#7ea3c8" stroke-width="0.9" stroke-opacity="0.9" />
<path d="M840.3,366.4 V369.2" fill="none" stroke="#7ea3c8" stroke-width="0.9" stroke-opacity="0.9" />
<path d="M841,372 Q848,374 848.5,378.1" fill="none" stroke="#7ea3c8" stroke-width="0.9" stroke-opacity="0.9" />
<path d="M848.5,381 V384" fill="none" stroke="#7ea3c8" stroke-width="0.9" stroke-opacity="0.9" />
<path d="M848,386.8 Q842,387 840,387.7" fill="none" stroke="#7ea3c8" stroke-width="0.9" stroke-opacity="0.9" />
<path d="M848,386.8 Q855,389 855.4,392.2" fill="none" stroke="#7ea3c8" stroke-width="0.9" stroke-opacity="0.9" />
<path d="M839.5,390.7 Q843,393 843.3,394.2" fill="none" stroke="#7ea3c8" stroke-width="0.9" stroke-opacity="0.9" />
<path d="M855,395 Q850,397 846.7,396" fill="none" stroke="#7ea3c8" stroke-width="0.9" stroke-opacity="0.9" />
<path d="M843.3,397 V405" fill="none" stroke="#7ea3c8" stroke-width="0.9" stroke-opacity="0.9" />
<rect x="835.8" y="352.0" width="7.0" height="2.9" rx="0.8" fill="#e4e4e4"/>
<rect x="830.8" y="357.5" width="6.8" height="2.7" rx="0.8" fill="#e4e4e4"/>
<rect x="841.1" y="360.2" width="7.0" height="2.7" rx="0.8" fill="#e4e4e4"/>
<rect x="837.0" y="363.7" width="6.7" height="2.7" rx="0.8" fill="#e4e4e4"/>
<rect x="837.0" y="369.2" width="6.7" height="2.7" rx="0.8" fill="#e4e4e4"/>
<rect x="845.2" y="378.1" width="6.7" height="2.8" rx="0.8" fill="#e4e4e4"/>
<rect x="845.2" y="384.0" width="6.7" height="2.8" rx="0.8" fill="#e4e4e4"/>
<rect x="836.2" y="387.7" width="6.6" height="3.0" rx="0.8" fill="#e4e4e4"/>
<rect x="839.9" y="394.2" width="6.8" height="2.9" rx="0.8" fill="#e4e4e4"/>
<rect x="851.9" y="392.2" width="7.0" height="2.8" rx="0.8" fill="#e4e4e4"/>
<rect x="841.7" y="405.1" width="6.4" height="2.8" rx="0.8" fill="#e00000"/>
<path d="M848.7,408 V449" fill="none" stroke="#7ea3c8" stroke-width="0.9" stroke-opacity="0.9" />
<path d="M846,408 Q850,410 876.2,410.3 Q887,412 887.9,421" fill="none" stroke="#7ea3c8" stroke-width="0.9" stroke-opacity="0.9" />
<path d="M890.5,435.7 V450" fill="none" stroke="#9a88c0" stroke-width="0.9" stroke-opacity="0.55" />
<path d="M890.5,453 V455" fill="none" stroke="#9a88c0" stroke-width="0.9" stroke-opacity="0.55" />
<rect x="887.3" y="432.7" width="6.7" height="3.0" rx="0.8" fill="#e4e4e4"/>
<rect x="887.3" y="438.6" width="6.7" height="2.7" rx="0.8" fill="#e4e4e4"/>
<rect x="886.1" y="444.2" width="7.0" height="2.9" rx="0.8" fill="#e4e4e4"/>
<rect x="887.0" y="450.0" width="7.0" height="3.0" rx="0.8" fill="#e4e4e4"/>
<rect x="888.5" y="454.7" width="4.1" height="3.2" rx="0.8" fill="#b45a78"/>
<rect x="846.0" y="448.1" width="7.0" height="3.1" rx="0.8" fill="#e4e4e4"/>
<path d="M849,451 Q838.5,452 838.3,460 V485" fill="none" stroke="#7ea3c8" stroke-width="0.9" stroke-opacity="0.9" />
<path d="M851,451 Q852,452 858,452.5 H866 Q872,454 872.3,463.5" fill="none" stroke="#7ea3c8" stroke-width="0.9" stroke-opacity="0.9" />
<path d="M872.3,467.6 Q871,472 860,472.5 Q849,473 848.1,473" fill="none" stroke="#7ea3c8" stroke-width="0.9" stroke-opacity="0.9" />
<rect x="869.7" y="463.5" width="5.3" height="4.1" rx="0.8" fill="#9cbcdc"/>
<path d="M838.5,487.5 Q840,491 843,491" fill="none" stroke="#7ea3c8" stroke-width="0.9" stroke-opacity="0.9" />
<path d="M845,494.2 V501.2" fill="none" stroke="#7ea3c8" stroke-width="0.9" stroke-opacity="0.9" />
<path d="M846,494 Q851,495 854,496.3" fill="none" stroke="#7ea3c8" stroke-width="0.9" stroke-opacity="0.9" />
<path d="M854.5,499.2 Q853,502 848,502.5" fill="none" stroke="#7ea3c8" stroke-width="0.9" stroke-opacity="0.9" />
<rect x="835.2" y="484.6" width="6.8" height="2.9" rx="0.8" fill="#e4e4e4"/>
<rect x="841.6" y="491.0" width="6.7" height="3.2" rx="0.8" fill="#e4e4e4"/>
<rect x="851.0" y="496.3" width="7.0" height="2.9" rx="0.8" fill="#e4e4e4"/>
<rect x="842.0" y="501.2" width="6.3" height="3.5" rx="0.8" fill="#1f5ec8"/>
<path d="M845,504.7 Q846,505.6 852,505.6 H878 Q885,506 885.6,510.1" fill="none" stroke="#7ea3c8" stroke-width="0.9" stroke-opacity="0.9" />
<path d="M843,505 Q828,508 825.9,528 V655" fill="none" stroke="#a8b4c0" stroke-width="0.9" stroke-opacity="0.5" />
<rect x="882.0" y="510.1" width="7.3" height="3.1" rx="0.8" fill="#e4e4e4"/>
<path d="M885.6,513.2 Q884,515 876,516 Q869.5,517 869.2,525 V532.8" fill="none" stroke="#7ea3c8" stroke-width="0.9" stroke-opacity="0.9" />
<path d="M885.6,513.2 Q887,515 897,516 Q903.1,518 903.1,531.4" fill="none" stroke="#7ea3c8" stroke-width="0.9" stroke-opacity="0.9" />
<path d="M868.5,535.8 V541" fill="none" stroke="#9a88c0" stroke-width="0.9" stroke-opacity="0.55" />
<rect x="865.0" y="532.8" width="6.7" height="3.0" rx="0.8" fill="#e4e4e4"/>
<rect x="866.2" y="540.8" width="4.7" height="3.5" rx="0.8" fill="#b45a78"/>
<path d="M903.3,546 V570" fill="none" stroke="#9a88c0" stroke-width="0.9" stroke-opacity="0.55" />
<path d="M937.4,552 V566" fill="none" stroke="#9a88c0" stroke-width="0.9" stroke-opacity="0.55" />
<path d="M937.4,568.3 Q936,570 912,571 Q906,571.5 905.7,571.7" fill="none" stroke="#9a88c0" stroke-width="0.9" stroke-opacity="0.55" />
<path d="M905.6,574.8 V583" fill="none" stroke="#9a88c0" stroke-width="0.9" stroke-opacity="0.55" />
<path d="M905.5,577 Q906,577.2 918,577.2 Q929,577.5 929.5,583.5" fill="none" stroke="#9a88c0" stroke-width="0.9" stroke-opacity="0.55" />
<path d="M905.5,586 V592" fill="none" stroke="#9a88c0" stroke-width="0.9" stroke-opacity="0.55" />
<path d="M906,590 Q910,589 922,589 Q924.1,590 924.1,621" fill="none" stroke="#9a88c0" stroke-width="0.9" stroke-opacity="0.55" />
<path d="M915,619 Q920,620.5 922,621.2" fill="none" stroke="#9a88c0" stroke-width="0.9" stroke-opacity="0.55" />
<path d="M923.4,624 V640" fill="none" stroke="#9a88c0" stroke-width="0.9" stroke-opacity="0.55" />
<path d="M923,636 Q905,636.2 898,636.4 Q886,640 885.5,658" fill="none" stroke="#9a88c0" stroke-width="0.9" stroke-opacity="0.55" />
<path d="M903.5,594 Q900,596.7 870,596.7 Q852,598 851.5,615" fill="none" stroke="#9a88c0" stroke-width="0.9" stroke-opacity="0.55" />
<rect x="899.7" y="543.7" width="6.8" height="3.0" rx="0.8" fill="#e4e4e4"/>
<rect x="899.7" y="548.0" width="6.8" height="3.1" rx="0.8" fill="#e4e4e4"/>
<rect x="899.7" y="553.8" width="6.8" height="3.3" rx="0.8" fill="#e4e4e4"/>
<rect x="899.7" y="565.8" width="6.8" height="3.2" rx="0.8" fill="#e4e4e4"/>
<rect x="902.2" y="571.5" width="6.9" height="3.3" rx="0.8" fill="#e4e4e4"/>
<rect x="934.5" y="548.9" width="6.5" height="3.1" rx="0.8" fill="#e4e4e4"/>
<rect x="934.5" y="553.8" width="6.5" height="3.3" rx="0.8" fill="#e4e4e4"/>
<rect x="934.5" y="558.9" width="6.5" height="3.1" rx="0.8" fill="#e4e4e4"/>
<rect x="934.5" y="565.0" width="6.5" height="3.3" rx="0.8" fill="#e4e4e4"/>
<rect x="902.2" y="582.8" width="6.7" height="3.3" rx="0.8" fill="#e4e4e4"/>
<rect x="926.1" y="583.5" width="6.7" height="3.2" rx="0.8" fill="#e4e4e4"/>
<rect x="902.2" y="591.8" width="6.7" height="3.3" rx="0.8" fill="#e4e4e4"/>
<rect x="911.0" y="604.1" width="7.4" height="3.0" rx="0.8" fill="#e4e4e4"/>
<rect x="920.0" y="621.2" width="6.8" height="2.9" rx="0.8" fill="#e4e4e4"/>
<rect x="920.0" y="626.1" width="6.8" height="3.0" rx="0.8" fill="#e4e4e4"/>
<rect x="920.0" y="631.5" width="6.8" height="3.1" rx="0.8" fill="#e4e4e4"/>
<rect x="921.4" y="639.7" width="6.9" height="3.2" rx="0.8" fill="#e4e4e4"/>
<rect x="900.0" y="559.2" width="6.2" height="4.4" rx="2" fill="#e00000"/>
<rect x="910.9" y="590.2" width="7.6" height="3.8" rx="0.8" fill="#d8d000"/>
<rect x="910.9" y="597.8" width="7.6" height="3.8" rx="0.8" fill="#d06a10"/>
<rect x="910.9" y="609.8" width="7.6" height="3.8" rx="0.8" fill="#d06a10"/>
<rect x="910.9" y="614.7" width="7.6" height="3.8" rx="0.8" fill="#d8d000"/>
<rect x="910.5" y="589.7" width="8.7" height="29.3" fill="none" stroke="#d08a30" stroke-width="0.5"/>
<rect x="922.5" y="647.3" width="4.9" height="3.8" rx="0.8" fill="#b45a78"/>
<rect x="849.0" y="615.1" width="5.0" height="4.4" rx="0.8" fill="#9cbcdc"/>
<path d="M851.5,619.5 Q850,622.7 840,622.7 Q835,623 834.4,623" fill="none" stroke="#7ea3c8" stroke-width="0.9" stroke-opacity="0.9" />
<rect x="824.0" y="652.2" width="6.1" height="3.4" rx="0.8" fill="#1f5ec8"/>
<rect x="824.6" y="665.1" width="5.0" height="3.8" rx="0.8" fill="#2a9a80"/>
<rect x="882.6" y="658.3" width="5.9" height="4.2" rx="0.8" fill="#e8e8f0"/>
<path d="M924.8,651 Q924,656 916,656.6 H898 Q888.5,658 888.5,672.6" fill="none" stroke="#7ea3c8" stroke-width="0.9" stroke-opacity="0.9" />
<path d="M924.8,651 Q926,656 930,657 Q934.1,660 934.1,695.9" fill="none" stroke="#7ea3c8" stroke-width="0.9" stroke-opacity="0.9" />
<path d="M886.4,662.5 V708.6" fill="none" stroke="#7ea3c8" stroke-width="0.9" stroke-opacity="0.9" />
<path d="M886.4,664.6 H916 Q927,666 927.7,672.6" fill="none" stroke="#7ea3c8" stroke-width="0.9" stroke-opacity="0.9" />
<path d="M881,687 Q884,692 885,696" fill="none" stroke="#7ea3c8" stroke-width="0.9" stroke-opacity="0.9" />
<path d="M926,692 Q931,695 932,696" fill="none" stroke="#7ea3c8" stroke-width="0.9" stroke-opacity="0.9" />
<rect x="877.7" y="684.2" width="6.5" height="2.7" rx="0.8" fill="#e4e4e4"/>
<rect x="884.0" y="696.1" width="6.8" height="3.5" rx="0.8" fill="#3a8ee0"/>
<rect x="884.8" y="708.6" width="4.7" height="4.0" rx="0.8" fill="#b45a78"/>
<rect x="922.2" y="689.0" width="6.6" height="3.2" rx="0.8" fill="#e4e4e4"/>
<rect x="930.9" y="695.9" width="6.9" height="3.4" rx="0.8" fill="#3a8ee0"/>
<rect x="929.8" y="706.0" width="5.3" height="3.9" rx="0.8" fill="#b45a78"/>
<path d="M934.1,699.3 V706" fill="none" stroke="#7ea3c8" stroke-width="0.9" stroke-opacity="0.9" />
<path d="M1037,468 V476.7" fill="none" stroke="#9a88c0" stroke-width="0.9" stroke-opacity="0.55" />
<path d="M1026,473 Q1030,477 1031.5,481" fill="none" stroke="#9a88c0" stroke-width="0.9" stroke-opacity="0.55" />
<path d="M1037,479.5 Q1035,481 1034,481" fill="none" stroke="#9a88c0" stroke-width="0.9" stroke-opacity="0.55" />
<path d="M1032.6,484 V514" fill="none" stroke="#9a88c0" stroke-width="0.9" stroke-opacity="0.55" />
<path d="M1031,517.3 V521" fill="none" stroke="#9a88c0" stroke-width="0.9" stroke-opacity="0.55" />
<rect x="1033.5" y="465.4" width="6.9" height="2.6" rx="0.8" fill="#e4e4e4"/>
<rect x="1022.0" y="470.4" width="7.0" height="2.7" rx="0.8" fill="#e4e4e4"/>
<rect x="1033.5" y="471.4" width="6.9" height="2.7" rx="0.8" fill="#e4e4e4"/>
<rect x="1033.5" y="476.7" width="6.9" height="2.8" rx="0.8" fill="#e4e4e4"/>
<rect x="1029.0" y="498.3" width="7.3" height="2.7" rx="0.8" fill="#e4e4e4"/>
<rect x="1028.0" y="514.3" width="7.0" height="3.0" rx="0.8" fill="#e4e4e4"/>
<rect x="1028.0" y="481.0" width="7.0" height="3.0" rx="0.8" fill="#f0a020"/>
<rect x="1028.6" y="485.6" width="8.1" height="25.4" fill="none" stroke="#d08a30" stroke-width="0.5"/>
<rect x="1029.0" y="486.8" width="7.3" height="3.1" rx="0.8" fill="#d8d000"/>
<rect x="1029.0" y="493.2" width="7.3" height="3.1" rx="0.8" fill="#d06a10"/>
<rect x="1029.0" y="503.1" width="7.3" height="3.1" rx="0.8" fill="#d06a10"/>
<rect x="1029.0" y="507.4" width="7.3" height="3.1" rx="0.8" fill="#d8d000"/>
<rect x="1029.0" y="521.1" width="4.1" height="2.6" rx="0.8" fill="#b45a78"/>
<path d="M1023,543.7 V548" fill="none" stroke="#9a88c0" stroke-width="0.9" stroke-opacity="0.55" />
<path d="M1034.8,543.7 V558" fill="none" stroke="#9a88c0" stroke-width="0.9" stroke-opacity="0.55" />
<path d="M1024.5,551 V558.6" fill="none" stroke="#9a88c0" stroke-width="0.9" stroke-opacity="0.55" />
<path d="M1036,561 Q1034,563 1026,563.5" fill="none" stroke="#9a88c0" stroke-width="0.9" stroke-opacity="0.55" />
<path d="M1024.5,561.5 V582.5" fill="none" stroke="#9a88c0" stroke-width="0.9" stroke-opacity="0.55" />
<rect x="1019.3" y="541.3" width="6.9" height="2.4" rx="0.8" fill="#e4e4e4"/>
<rect x="1031.4" y="541.3" width="6.9" height="2.4" rx="0.8" fill="#e4e4e4"/>
<rect x="1020.1" y="548.0" width="6.9" height="3.0" rx="0.8" fill="#e4e4e4"/>
<rect x="1031.4" y="547.4" width="6.9" height="2.7" rx="0.8" fill="#e4e4e4"/>
<rect x="1031.4" y="553.2" width="6.9" height="2.6" rx="0.8" fill="#e4e4e4"/>
<rect x="1033.1" y="558.3" width="7.0" height="2.7" rx="0.8" fill="#e4e4e4"/>
<rect x="1021.0" y="558.6" width="7.0" height="2.9" rx="0.8" fill="#e4e4e4"/>
<rect x="1021.0" y="565.5" width="7.0" height="3.1" rx="0.8" fill="#e4e4e4"/>
<rect x="1021.0" y="571.6" width="7.0" height="2.8" rx="0.8" fill="#e4e4e4"/>
<rect x="1021.0" y="577.6" width="7.0" height="2.8" rx="0.8" fill="#e4e4e4"/>
<rect x="1022.6" y="582.5" width="4.2" height="3.0" rx="0.8" fill="#b45a78"/>
<path d="M1020,606.7 Q1024,608 1025.5,611" fill="none" stroke="#9a88c0" stroke-width="0.9" stroke-opacity="0.55" />
<path d="M1036.5,607.7 Q1033,610 1027,611" fill="none" stroke="#9a88c0" stroke-width="0.9" stroke-opacity="0.55" />
<path d="M1025.5,613.8 V634" fill="none" stroke="#9a88c0" stroke-width="0.9" stroke-opacity="0.55" />
<rect x="1016.4" y="603.9" width="6.7" height="2.8" rx="0.8" fill="#e4e4e4"/>
<rect x="1033.1" y="605.0" width="6.7" height="2.7" rx="0.8" fill="#e4e4e4"/>
<rect x="1022.6" y="610.9" width="6.3" height="2.9" rx="0.8" fill="#e4e4e4"/>
<rect x="1021.2" y="617.1" width="6.7" height="3.0" rx="0.8" fill="#e4e4e4"/>
<rect x="1022.2" y="623.1" width="6.7" height="2.9" rx="0.8" fill="#e4e4e4"/>
<rect x="1023.1" y="634.0" width="4.5" height="3.7" rx="0.8" fill="#b45a78"/>
<path d="M1023,660.6 V680" fill="none" stroke="#9a88c0" stroke-width="0.9" stroke-opacity="0.55" />
<rect x="1019.2" y="657.7" width="6.7" height="2.9" rx="0.8" fill="#e4e4e4"/>
<rect x="1019.2" y="666.1" width="6.7" height="2.8" rx="0.8" fill="#e4e4e4"/>
<rect x="1020.0" y="672.0" width="6.7" height="3.0" rx="0.8" fill="#e4e4e4"/>
<rect x="1021.4" y="680.3" width="4.0" height="3.4" rx="0.8" fill="#b45a78"/>
<path d="M1023.5,706 V716" fill="none" stroke="#9a88c0" stroke-width="0.9" stroke-opacity="0.55" />
<path d="M1025,718.8 Q1027.5,722 1027.5,726.3" fill="none" stroke="#9a88c0" stroke-width="0.9" stroke-opacity="0.55" />
<rect x="1019.7" y="703.7" width="7.0" height="2.5" rx="0.8" fill="#e4e4e4"/>
<rect x="1019.7" y="710.1" width="7.0" height="2.8" rx="0.8" fill="#e4e4e4"/>
<rect x="1020.9" y="716.3" width="7.2" height="2.5" rx="0.8" fill="#e4e4e4"/>
<rect x="1025.1" y="726.3" width="4.6" height="3.9" rx="0.8" fill="#b45a78"/>
<path d="M1029,749.7 V763" fill="none" stroke="#9a88c0" stroke-width="0.9" stroke-opacity="0.55" />
<path d="M1029.5,766 Q1030.5,770 1030.5,777.3" fill="none" stroke="#9a88c0" stroke-width="0.9" stroke-opacity="0.55" />
<rect x="1025.9" y="746.9" width="7.2" height="2.8" rx="0.8" fill="#e4e4e4"/>
<rect x="1025.1" y="755.9" width="6.7" height="3.0" rx="0.8" fill="#e4e4e4"/>
<rect x="1025.9" y="763.1" width="7.2" height="2.8" rx="0.8" fill="#e4e4e4"/>
<rect x="1028.1" y="777.3" width="4.5" height="3.7" rx="0.8" fill="#b45a78"/>
<path d="M830.5,722 V739" fill="none" stroke="#7ea3c8" stroke-width="0.9" stroke-opacity="0.9" />
<rect x="827.0" y="719.1" width="7.0" height="2.8" rx="0.8" fill="#e4e4e4"/>
<rect x="827.0" y="725.2" width="7.0" height="2.8" rx="0.8" fill="#e4e4e4"/>
<rect x="827.0" y="730.7" width="7.0" height="2.8" rx="0.8" fill="#e4e4e4"/>
<rect x="827.0" y="736.3" width="7.0" height="2.8" rx="0.8" fill="#e4e4e4"/>
<path d="M833.4,740.6 Q850,741 858,748 Q867,755 867.1,765 V786" fill="none" stroke="#8ea8d0" stroke-width="1.1" stroke-opacity="0.9" stroke-dasharray="1 2.2"/>
<path d="M865.6,722.2 Q867,725 873.8,728.3" fill="none" stroke="#7ea3c8" stroke-width="0.9" stroke-opacity="0.9" />
<path d="M881.2,722.2 Q880,725 873.8,728.3" fill="none" stroke="#7ea3c8" stroke-width="0.9" stroke-opacity="0.9" />
<path d="M873.8,731.4 V733.4" fill="none" stroke="#7ea3c8" stroke-width="0.9" stroke-opacity="0.9" />
<path d="M874,736.3 Q879.4,738 879.4,745 V776.1" fill="none" stroke="#7ea3c8" stroke-width="0.9" stroke-opacity="0.9" />
<rect x="862.2" y="719.1" width="6.8" height="3.1" rx="0.8" fill="#2a9a80"/>
<rect x="877.8" y="719.1" width="6.8" height="3.1" rx="0.8" fill="#2a9a80"/>
<rect x="870.8" y="728.3" width="6.1" height="3.1" rx="0.8" fill="#2a9a80"/>
<rect x="870.8" y="733.4" width="6.1" height="2.9" rx="0.8" fill="#2a9a80"/>
<rect x="877.5" y="729.5" width="1.5" height="1.5" rx="0.8" fill="#e0a000"/>
<path d="M880.5,776 Q881,731.0 919,731.0 H988 Q990.3,731.0 990.3,728.0" fill="none" stroke="#98b0cc" stroke-width="0.8" stroke-opacity="0.75" />
<path d="M880.5,776 Q881,736.9 922,736.9 H988 Q990.3,736.9 990.3,733.9" fill="none" stroke="#98b0cc" stroke-width="0.8" stroke-opacity="0.75" />
<path d="M880.5,776 Q881,742.6 925,742.6 H988 Q990.3,742.6 990.3,739.6" fill="none" stroke="#98b0cc" stroke-width="0.8" stroke-opacity="0.75" />
<path d="M880.5,776 Q881,748.5 928,748.5 H988 Q990.3,748.5 990.3,745.5" fill="none" stroke="#98b0cc" stroke-width="0.8" stroke-opacity="0.75" />
<path d="M880.5,776 Q881,754.4 931,754.4 H988 Q990.3,754.4 990.3,751.4" fill="none" stroke="#98b0cc" stroke-width="0.8" stroke-opacity="0.75" />
<path d="M880.5,776 Q881,760.4 934,760.4 H988 Q990.3,760.4 990.3,757.4" fill="none" stroke="#98b0cc" stroke-width="0.8" stroke-opacity="0.75" />
<rect x="987.9" y="726.8" width="6.1" height="2.5" rx="1" fill="#b45a78"/>
<rect x="987.9" y="732.6" width="6.1" height="2.5" rx="1" fill="#b45a78"/>
<rect x="987.9" y="738.3" width="6.1" height="2.5" rx="1" fill="#b45a78"/>
<rect x="987.9" y="744.2" width="6.1" height="2.5" rx="1" fill="#b45a78"/>
<rect x="987.9" y="750.1" width="6.1" height="2.5" rx="1" fill="#b45a78"/>
<rect x="987.9" y="755.9" width="6.1" height="2.5" rx="1" fill="#b45a78"/>
<rect x="878.1" y="776.1" width="6.8" height="3.1" rx="0.8" fill="#e6e0d8"/>
<rect x="885.0" y="777.2" width="1.5" height="1.5" rx="0.8" fill="#e0a000"/>
<path d="M880,779.2 Q870,781 868.5,787" fill="none" stroke="#7ea3c8" stroke-width="0.9" stroke-opacity="0.9" />
<rect x="864.0" y="786.9" width="7.6" height="3.3" rx="1.6" fill="#c8f8a8"/>
<path d="M866.5,790.2 Q866,791.3 860,791.3 H770 Q750,795 748,817.8" fill="none" stroke="#7ea3c8" stroke-width="0.9" stroke-opacity="0.9" />
<rect x="745.3" y="817.8" width="7.4" height="3.8" rx="0.8" fill="#d06a10"/>
<rect x="1046.4" y="816.8" width="7.0" height="3.2" rx="0.8" fill="#d06a10"/>
<rect x="1048.0" y="184.8" width="6.6" height="3.2" rx="0.8" fill="#d06a10"/>
<path d="M749.5,821.6 Q752,823 770,823.5 H850 Q886,826 890.3,877" fill="none" stroke="#7ea3c8" stroke-width="0.9" stroke-opacity="0.75" />
<rect x="888.7" y="877.2" width="7.2" height="3.0" rx="0.8" fill="#e4e4e4"/>
<path d="M892,880.2 V888.5" fill="none" stroke="#5f97dc" stroke-width="0.9" stroke-opacity="0.9" />
<path d="M857.3,884.5 Q858,881.6 864,881.6 H962 Q969,882 969.5,888.5" fill="none" stroke="#5f97dc" stroke-width="0.9" stroke-opacity="0.9" />
<path d="M894.1,881.6 Q906.1,882 906.1,888.5" fill="none" stroke="#5f97dc" stroke-width="0.8" stroke-opacity="0.9" />
<path d="M907.9,881.6 Q919.9,882 919.9,888.5" fill="none" stroke="#5f97dc" stroke-width="0.8" stroke-opacity="0.9" />
<path d="M924,881.6 Q936,882 936,888.5" fill="none" stroke="#5f97dc" stroke-width="0.8" stroke-opacity="0.9" />
<path d="M941,881.6 Q953,882 953,888.5" fill="none" stroke="#5f97dc" stroke-width="0.8" stroke-opacity="0.9" />
<rect x="887.9" y="888.5" width="7.2" height="2.7" rx="0.8" fill="#e4e4e4"/>
<rect x="902.1" y="888.5" width="7.2" height="2.7" rx="0.8" fill="#e4e4e4"/>
<rect x="915.9" y="888.5" width="7.2" height="2.7" rx="0.8" fill="#e4e4e4"/>
<rect x="932.0" y="888.5" width="7.2" height="2.7" rx="0.8" fill="#e4e4e4"/>
<rect x="949.0" y="888.5" width="7.2" height="2.7" rx="0.8" fill="#e4e4e4"/>
<rect x="966.0" y="888.5" width="7.2" height="2.7" rx="0.8" fill="#e4e4e4"/>
<rect x="886.0" y="895.1" width="5.1" height="3.7" rx="0.8" fill="#b45a78"/>
<rect x="902.5" y="895.1" width="5.1" height="3.7" rx="0.8" fill="#b45a78"/>
<rect x="916.3" y="895.1" width="5.1" height="3.7" rx="0.8" fill="#b45a78"/>
<rect x="932.9" y="895.1" width="5.1" height="3.7" rx="0.8" fill="#b45a78"/>
<rect x="950.0" y="895.1" width="5.1" height="3.7" rx="0.8" fill="#b45a78"/>
<rect x="967.0" y="895.1" width="5.1" height="3.7" rx="0.8" fill="#b45a78"/>
<path d="M891.5,891.2 Q891.5,893 891.0,895.1" fill="none" stroke="#5f97dc" stroke-width="0.8" stroke-opacity="0.9" />
<path d="M905,891.2 Q905,893 905.0,895.1" fill="none" stroke="#5f97dc" stroke-width="0.8" stroke-opacity="0.9" />
<path d="M919,891.2 Q919,893 918.8,895.1" fill="none" stroke="#5f97dc" stroke-width="0.8" stroke-opacity="0.9" />
<path d="M935.5,891.2 Q935.5,893 935.4,895.1" fill="none" stroke="#5f97dc" stroke-width="0.8" stroke-opacity="0.9" />
<path d="M952.5,891.2 Q952.5,893 952.5,895.1" fill="none" stroke="#5f97dc" stroke-width="0.8" stroke-opacity="0.9" />
<path d="M969.5,891.2 Q969.5,893 969.5,895.1" fill="none" stroke="#5f97dc" stroke-width="0.8" stroke-opacity="0.9" />
<rect x="853.8" y="884.1" width="7.6" height="2.7" rx="0.8" fill="#e4e4e4"/>
<rect x="853.8" y="894.0" width="5.1" height="3.4" rx="0.8" fill="#9cbcdc"/>
<path d="M856.3,886.8 V894" fill="none" stroke="#5f97dc" stroke-width="0.9" stroke-opacity="0.9" />
<path d="M856.3,897.4 Q855,899.5 846.5,899.5 H735 Q640,905 622.5,1000.2" fill="none" stroke="#8a96a0" stroke-width="0.7" stroke-opacity="0.4" />
<path d="M856.3,897.4 Q850,899.5 848,902 Q845.6,905 845.6,908.2" fill="none" stroke="#5f97dc" stroke-width="0.9" stroke-opacity="0.9" />
<path d="M856.3,897.4 Q860,899.5 870,900 Q881.4,905 881.4,940.2" fill="none" stroke="#5f97dc" stroke-width="0.9" stroke-opacity="0.9" />
<rect x="842.1" y="908.2" width="7.2" height="3.0" rx="0.8" fill="#e4e4e4"/>
<path d="M845.6,911.2 Q842,913 836,914 Q833,915 833.4,915.4" fill="none" stroke="#5f97dc" stroke-width="0.9" stroke-opacity="0.9" />
<path d="M845.6,911.2 Q850,913 856,914 Q862.8,917 862.8,939.3" fill="none" stroke="#5f97dc" stroke-width="0.9" stroke-opacity="0.9" />
<rect x="831.0" y="915.4" width="4.9" height="4.1" rx="0.8" fill="#9cbcdc"/>
<rect x="861.1" y="939.3" width="4.7" height="4.1" rx="0.8" fill="#9cbcdc"/>
<rect x="878.0" y="940.2" width="7.1" height="3.2" rx="0.8" fill="#e4e4e4"/>
<path d="M863.5,943.4 Q866,946.4 871.5,946.4" fill="none" stroke="#5f97dc" stroke-width="0.9" stroke-opacity="0.9" />
<path d="M881.5,943.4 Q878,946.4 871.5,946.4" fill="none" stroke="#5f97dc" stroke-width="0.9" stroke-opacity="0.9" />
<path d="M871.7,949.5 V974.3" fill="none" stroke="#5f97dc" stroke-width="0.9" stroke-opacity="0.9" />
<rect x="868.3" y="946.4" width="6.9" height="3.1" rx="0.8" fill="#e4e4e4"/>
<rect x="868.3" y="952.6" width="6.9" height="3.2" rx="0.8" fill="#e4e4e4"/>
<rect x="867.6" y="958.8" width="6.9" height="3.1" rx="0.8" fill="#e4e4e4"/>
<rect x="868.3" y="964.6" width="6.9" height="3.2" rx="0.8" fill="#e4e4e4"/>
<rect x="869.0" y="974.3" width="5.5" height="4.1" rx="0.8" fill="#9cbcdc"/>
<path d="M1068.8,950 V986" fill="none" stroke="#7ea3c8" stroke-width="0.9" stroke-opacity="0.9" />
<rect x="1065.1" y="946.8" width="7.5" height="3.4" rx="0.8" fill="#e4e4e4"/>
<rect x="1065.1" y="952.6" width="7.5" height="3.4" rx="0.8" fill="#e4e4e4"/>
<rect x="1065.1" y="958.4" width="7.5" height="3.4" rx="0.8" fill="#e4e4e4"/>
<rect x="1065.1" y="963.9" width="7.5" height="3.4" rx="0.8" fill="#e4e4e4"/>
<rect x="1065.1" y="969.7" width="7.5" height="3.4" rx="0.8" fill="#e4e4e4"/>
<rect x="1065.1" y="975.5" width="7.5" height="3.4" rx="0.8" fill="#e4e4e4"/>
<rect x="1066.0" y="985.9" width="5.8" height="4.5" rx="0.8" fill="#9cbcdc"/>
<path d="M1273.6,146.5 H1440.6" fill="none" stroke="#6a74b8" stroke-width="0.9" stroke-opacity="0.9" />
<path d="M1330.0,146.5 Q1357.7,152 1357.7,183" fill="none" stroke="#6a74b8" stroke-width="0.9" stroke-opacity="0.75" />
<path d="M1336.2,146.5 Q1357.7,152 1357.7,183" fill="none" stroke="#6a74b8" stroke-width="0.9" stroke-opacity="0.75" />
<path d="M1342.4,146.5 Q1357.7,152 1357.7,183" fill="none" stroke="#6a74b8" stroke-width="0.9" stroke-opacity="0.75" />
<path d="M1348.6,146.5 Q1357.7,152 1357.7,183" fill="none" stroke="#6a74b8" stroke-width="0.9" stroke-opacity="0.75" />
<path d="M1354.8,146.5 Q1357.7,152 1357.7,183" fill="none" stroke="#6a74b8" stroke-width="0.9" stroke-opacity="0.75" />
<path d="M1361.0,146.5 Q1357.7,152 1357.7,183" fill="none" stroke="#6a74b8" stroke-width="0.9" stroke-opacity="0.75" />
<path d="M1367.2,146.5 Q1357.7,152 1357.7,183" fill="none" stroke="#6a74b8" stroke-width="0.9" stroke-opacity="0.75" />
<path d="M1373.4,146.5 Q1357.7,152 1357.7,183" fill="none" stroke="#6a74b8" stroke-width="0.9" stroke-opacity="0.75" />
<path d="M1379.6,146.5 Q1357.7,152 1357.7,183" fill="none" stroke="#6a74b8" stroke-width="0.9" stroke-opacity="0.75" />
<path d="M1385.8,146.5 Q1357.7,152 1357.7,183" fill="none" stroke="#6a74b8" stroke-width="0.9" stroke-opacity="0.75" />
<path d="M1358.5,145.2 V183" fill="none" stroke="#6a74b8" stroke-width="1.2" stroke-opacity="0.9" />
<rect x="1269.8" y="142.2" width="7.2" height="3.0" rx="0.8" fill="#e4e4e4"/>
<rect x="1283.9" y="142.2" width="7.2" height="3.0" rx="0.8" fill="#e4e4e4"/>
<rect x="1297.8" y="142.2" width="7.2" height="3.0" rx="0.8" fill="#e4e4e4"/>
<rect x="1312.0" y="142.2" width="7.2" height="3.0" rx="0.8" fill="#e4e4e4"/>
<rect x="1324.2" y="142.2" width="7.2" height="3.0" rx="0.8" fill="#e4e4e4"/>
<rect x="1340.9" y="142.2" width="7.2" height="3.0" rx="0.8" fill="#e4e4e4"/>
<rect x="1355.0" y="142.2" width="7.2" height="3.0" rx="0.8" fill="#e4e4e4"/>
<rect x="1375.0" y="142.2" width="7.2" height="3.0" rx="0.8" fill="#e4e4e4"/>
<rect x="1394.8" y="142.2" width="7.2" height="3.0" rx="0.8" fill="#e4e4e4"/>
<rect x="1415.0" y="142.2" width="7.2" height="3.0" rx="0.8" fill="#e4e4e4"/>
<rect x="1436.8" y="142.2" width="7.2" height="3.0" rx="0.8" fill="#e4e4e4"/>
<path d="M1356.5,186 V211.5" fill="none" stroke="#6a74b8" stroke-width="0.9" stroke-opacity="0.9" />
<path d="M1357,198.2 Q1356,200.5 1350,201" fill="none" stroke="#6a74b8" stroke-width="0.9" stroke-opacity="0.9" />
<path d="M1347,204.1 Q1352,208 1355,211" fill="none" stroke="#6a74b8" stroke-width="0.9" stroke-opacity="0.9" stroke-dasharray="1 1.5"/>
<rect x="1354.1" y="182.6" width="7.6" height="3.3" rx="1.4" fill="#e4e0e0"/>
<rect x="1361.7" y="183.8" width="1.3" height="1.4" rx="0.8" fill="#e0a000"/>
<rect x="1354.7" y="194.5" width="7.0" height="3.7" rx="0.8" fill="#e4e4e4"/>
<rect x="1343.1" y="200.9" width="7.6" height="3.2" rx="0.8" fill="#e4e4e4"/>
<rect x="1354.1" y="211.5" width="8.0" height="3.2" rx="1.6" fill="#c8f8a8"/>
<path d="M1357.5,214.7 V218" fill="none" stroke="#6a74b8" stroke-width="0.9" stroke-opacity="0.9" />
<rect x="1354.1" y="217.7" width="5.6" height="4.0" rx="1.5" fill="#7a2a6a"/>
<rect x="1265" y="257.2" width="9.5" height="4.8" rx="2.2" fill="#1a1a1a" stroke="#e8a8b0" stroke-width="1.2"/>
<path d="M1272,262 Q1277,264 1277.5,273.75" fill="none" stroke="#4aa0b8" stroke-width="0.9" stroke-opacity="0.9" />
<rect x="1292.8" y="257.7" width="6.2" height="2.5" rx="0.8" fill="#7a70b8"/>
<rect x="1313.5" y="257.7" width="6.2" height="2.5" rx="0.8" fill="#7a70b8"/>
<rect x="1338.0" y="257.7" width="6.2" height="2.5" rx="0.8" fill="#7a70b8"/>
<rect x="1355.8" y="257.7" width="6.2" height="2.5" rx="0.8" fill="#7a70b8"/>
<path d="M1295.8,260.3 V265" fill="none" stroke="#4aa0b8" stroke-width="0.9" stroke-opacity="0.9" />
<path d="M1316.7,260 V265" fill="none" stroke="#4aa0b8" stroke-width="0.9" stroke-opacity="0.9" />
<path d="M1295.7,267.5 Q1300,272 1301,276.6" fill="none" stroke="#4aa0b8" stroke-width="0.9" stroke-opacity="0.9" />
<path d="M1316.6,267.5 Q1316,269 1310,269.5 Q1302,271 1302,276.6" fill="none" stroke="#4aa0b8" stroke-width="0.9" stroke-opacity="0.9" />
<path d="M1329,270.9 Q1328,272.3 1310,272.3 Q1303,273 1302.5,276.6" fill="none" stroke="#4aa0b8" stroke-width="0.9" stroke-opacity="0.9" />
<path d="M1341,260.1 Q1348,262 1348,273.75" fill="none" stroke="#4aa0b8" stroke-width="0.9" stroke-opacity="0.9" />
<path d="M1359,260.1 Q1349,262 1348,273.75" fill="none" stroke="#4aa0b8" stroke-width="0.9" stroke-opacity="0.9" />
<path d="M1348,276.6 V305" fill="none" stroke="#4aa0b8" stroke-width="0.9" stroke-opacity="0.9" />
<path d="M1281,277 Q1285,279 1289,281" fill="none" stroke="#4aa0b8" stroke-width="0.9" stroke-opacity="0.9" stroke-dasharray="1 1.5"/>
<path d="M1301,279.5 Q1300,281.5 1295,282 Q1291,283 1290.5,284" fill="none" stroke="#4aa0b8" stroke-width="0.9" stroke-opacity="0.9" />
<path d="M1290.5,286.9 V306" fill="none" stroke="#4aa0b8" stroke-width="0.9" stroke-opacity="0.9" />
<rect x="1292.3" y="265.1" width="6.7" height="2.4" rx="0.8" fill="#e4e4e4"/>
<rect x="1313.3" y="265.1" width="6.7" height="2.4" rx="0.8" fill="#e4e4e4"/>
<rect x="1326.0" y="268.3" width="6.7" height="2.6" rx="0.8" fill="#e4e4e4"/>
<rect x="1276.0" y="273.8" width="6.2" height="2.9" rx="0.8" fill="#e4e4e4"/>
<rect x="1298.0" y="276.6" width="6.8" height="2.9" rx="0.8" fill="#e4e4e4"/>
<rect x="1305.0" y="278.0" width="1.2" height="1.4" rx="0.8" fill="#e0a000"/>
<rect x="1287.0" y="284.0" width="7.0" height="2.9" rx="1.5" fill="#c8f8a8"/>
<rect x="1344.7" y="273.8" width="7.0" height="2.9" rx="0.8" fill="#e4e4e4"/>
<rect x="1287.0" y="296.3" width="6.8" height="2.9" rx="0.8" fill="#e4e4e4"/>
<rect x="1287.0" y="306.0" width="6.8" height="2.4" rx="0.8" fill="#7a1a5a"/>
<rect x="1344.7" y="305.0" width="6.7" height="2.9" rx="0.8" fill="#7a70b8"/>
<path d="M101.6,128 V141" fill="none" stroke="#7ea3c8" stroke-width="0.9" stroke-opacity="0.9" />
<rect x="98.0" y="125.1" width="7.0" height="2.8" rx="0.8" fill="#d040a0"/>
<rect x="98.0" y="131.8" width="8.4" height="3.2" rx="0.8" fill="#e4e4e4"/>
<rect x="99.0" y="141.0" width="5.4" height="4.4" rx="0.8" fill="#9cbcdc"/>
<path d="M331.8,410 V428" fill="none" stroke="#5f97dc" stroke-width="0.9" stroke-opacity="0.9" />
<path d="M330,417 Q329,419.3 320,419.3 H314 Q310.6,420 310.6,421.1" fill="none" stroke="#5f97dc" stroke-width="0.9" stroke-opacity="0.9" />
<path d="M331.5,431 V436" fill="none" stroke="#5f97dc" stroke-width="0.9" stroke-opacity="0.9" />
<path d="M333,431.3 Q336,432.5 342,432.5 Q346,433 346,436.8" fill="none" stroke="#5f97dc" stroke-width="0.9" stroke-opacity="0.9" />
<rect x="323.9" y="435.9" width="8.3" height="21.1" rx="2" fill="#d8821e"/>
<path d="M328.1,457 V477" fill="none" stroke="#5f97dc" stroke-width="0.9" stroke-opacity="0.9" />
<rect x="328.1" y="415.1" width="7.8" height="2.9" rx="0.8" fill="#e4e4e4"/>
<rect x="307.9" y="421.1" width="5.5" height="4.3" rx="0.8" fill="#b45a78"/>
<rect x="328.1" y="428.0" width="6.8" height="3.3" rx="0.8" fill="#e4e4e4"/>
<rect x="343.6" y="436.8" width="5.1" height="4.0" rx="0.8" fill="#9cbcdc"/>
<rect x="324.8" y="442.3" width="6.5" height="2.7" rx="0.8" fill="#e4e4e4"/>
<rect x="324.8" y="448.2" width="6.5" height="2.7" rx="0.8" fill="#e4e4e4"/>
<rect x="324.8" y="453.3" width="6.5" height="2.7" rx="0.8" fill="#e4e4e4"/>
<rect x="324.5" y="461.6" width="6.8" height="2.8" rx="0.8" fill="#e4e4e4"/>
<rect x="324.5" y="467.1" width="6.8" height="2.8" rx="0.8" fill="#e4e4e4"/>
<rect x="324.5" y="473.2" width="6.8" height="2.8" rx="0.8" fill="#e4e4e4"/>
<path d="M328.1,476.3 Q327,477.2 310,477.2 Q275,478 273.3,495.6" fill="none" stroke="#5f97dc" stroke-width="0.9" stroke-opacity="0.9" />
<path d="M328.1,476.3 Q330,477.2 340,478 Q352,481 354,489" fill="none" stroke="#a0a4a8" stroke-width="0.9" stroke-opacity="0.55" />
<path d="M354,489 Q355.2,492 355.2,500 V538.8" fill="none" stroke="#5f97dc" stroke-width="0.9" stroke-opacity="0.8" />
<path d="M273.5,498 V541" fill="none" stroke="#5f97dc" stroke-width="0.9" stroke-opacity="0.9" />
<rect x="270.0" y="495.6" width="7.0" height="2.8" rx="0.8" fill="#e4e4e4"/>
<rect x="270.0" y="501.7" width="7.0" height="2.8" rx="0.8" fill="#e4e4e4"/>
<rect x="270.0" y="507.6" width="7.0" height="2.8" rx="0.8" fill="#e4e4e4"/>
<rect x="270.0" y="513.1" width="7.0" height="2.8" rx="0.8" fill="#e4e4e4"/>
<rect x="270.0" y="519.2" width="7.0" height="2.8" rx="0.8" fill="#e4e4e4"/>
<rect x="270.0" y="525.0" width="7.0" height="2.8" rx="0.8" fill="#e4e4e4"/>
<path d="M271.5,523.6 H245 Q238.4,524.5 236,529.3" fill="none" stroke="#5f97dc" stroke-width="0.9" stroke-opacity="0.9" />
<rect x="271.1" y="540.7" width="5.0" height="4.6" rx="0.8" fill="#b45a78"/>
<rect x="232.0" y="529.3" width="6.0" height="4.6" rx="0.8" fill="#6a74b8"/>
<path d="M393,512 V521" fill="none" stroke="#5f97dc" stroke-width="0.9" stroke-opacity="0.9" />
<path d="M393,523.8 Q392.9,525 370,526 Q359.8,527 359.8,531 Q357,536 356.1,538.8" fill="none" stroke="#5f97dc" stroke-width="0.9" stroke-opacity="0.9" />
<path d="M393,537.9 V554" fill="none" stroke="#5f97dc" stroke-width="0.9" stroke-opacity="0.9" />
<path d="M393,550 Q392,551 375,551.5 Q366,553 365.5,559" fill="none" stroke="#5f97dc" stroke-width="0.9" stroke-opacity="0.9" />
<path d="M393,557 Q392,558.1 369,558.1" fill="none" stroke="#5f97dc" stroke-width="0.9" stroke-opacity="0.9" />
<path d="M355.5,541.6 V551" fill="none" stroke="#5f97dc" stroke-width="0.9" stroke-opacity="0.9" />
<path d="M356,553.5 Q360,556 363,559" fill="none" stroke="#5f97dc" stroke-width="0.9" stroke-opacity="0.9" />
<path d="M365.3,567.7 V614" fill="none" stroke="#5f97dc" stroke-width="0.9" stroke-opacity="0.9" />
<path d="M363.4,590.3 Q360,591.2 345,591.2 Q332,593 331,603.2" fill="none" stroke="#5f97dc" stroke-width="0.9" stroke-opacity="0.9" />
<rect x="390.1" y="509.4" width="6.8" height="2.8" rx="0.8" fill="#e4e4e4"/>
<rect x="390.1" y="515.3" width="6.8" height="2.8" rx="0.8" fill="#e4e4e4"/>
<rect x="390.1" y="521.0" width="6.8" height="2.8" rx="0.8" fill="#e4e4e4"/>
<rect x="389.5" y="534.8" width="7.4" height="3.1" rx="0.8" fill="#e4e4e4"/>
<rect x="390.1" y="541.2" width="6.8" height="2.6" rx="0.8" fill="#e4e4e4"/>
<rect x="390.1" y="547.1" width="6.8" height="2.8" rx="0.8" fill="#e4e4e4"/>
<rect x="390.1" y="554.1" width="6.8" height="2.8" rx="0.8" fill="#e4e4e4"/>
<rect x="352.0" y="538.8" width="7.4" height="2.8" rx="0.8" fill="#e4e4e4"/>
<rect x="352.0" y="545.3" width="6.8" height="2.7" rx="0.8" fill="#e4e4e4"/>
<rect x="351.2" y="551.2" width="6.8" height="2.3" rx="0.8" fill="#e4e4e4"/>
<rect x="361.2" y="559.1" width="7.4" height="2.7" rx="0.8" fill="#e4e4e4"/>
<rect x="361.2" y="565.0" width="7.4" height="2.7" rx="0.8" fill="#e4e4e4"/>
<rect x="362.0" y="580.2" width="7.0" height="2.8" rx="0.8" fill="#e4e4e4"/>
<rect x="362.0" y="586.1" width="7.0" height="2.8" rx="0.8" fill="#e4e4e4"/>
<rect x="362.0" y="599.0" width="7.3" height="2.9" rx="0.8" fill="#e4e4e4"/>
<rect x="359.8" y="539.6" width="1.5" height="1.5" rx="0.8" fill="#e0a000"/>
<rect x="368.6" y="559.8" width="1.5" height="1.5" rx="0.8" fill="#e0a000"/>
<rect x="368.6" y="565.6" width="1.5" height="1.5" rx="0.8" fill="#e0a000"/>
<rect x="328.5" y="603.2" width="5.1" height="3.7" rx="0.8" fill="#9cbcdc"/>
<rect x="363.0" y="614.2" width="5.0" height="4.7" rx="0.8" fill="#9cbcdc"/>
<path d="M267,658.6 Q272,660 275,665.9" fill="none" stroke="#5f97dc" stroke-width="0.9" stroke-opacity="0.9" />
<path d="M288.5,658.6 Q280,661 276,665.9" fill="none" stroke="#5f97dc" stroke-width="0.9" stroke-opacity="0.9" />
<path d="M275.3,669 V675.4" fill="none" stroke="#5f97dc" stroke-width="0.9" stroke-opacity="0.9" />
<rect x="263.0" y="655.8" width="7.2" height="2.8" rx="0.8" fill="#e4e4e4"/>
<rect x="285.1" y="655.8" width="7.1" height="2.8" rx="0.8" fill="#e4e4e4"/>
<rect x="271.6" y="665.9" width="7.4" height="3.1" rx="0.8" fill="#e4e4e4"/>
<rect x="272.3" y="675.4" width="5.3" height="4.3" rx="0.8" fill="#9cbcdc"/>
<path d="M260.1,714 V731" fill="none" stroke="#6a74b8" stroke-width="0.9" stroke-opacity="0.9" />
<path d="M260.5,731.5 Q264,733 265.5,734.8" fill="none" stroke="#6a74b8" stroke-width="0.9" stroke-opacity="0.9" />
<path d="M279,720 Q272,725 267,734" fill="none" stroke="#6a74b8" stroke-width="0.9" stroke-opacity="0.9" stroke-dasharray="1 2"/>
<path d="M267,737.9 V771" fill="none" stroke="#6a74b8" stroke-width="0.9" stroke-opacity="0.9" />
<rect x="256.7" y="711.6" width="7.1" height="2.9" rx="0.8" fill="#e4e4e4"/>
<rect x="256.7" y="717.3" width="7.1" height="2.8" rx="0.8" fill="#e4e4e4"/>
<rect x="256.7" y="723.0" width="7.1" height="2.8" rx="0.8" fill="#e4e4e4"/>
<rect x="256.7" y="728.7" width="7.1" height="2.8" rx="0.8" fill="#e4e4e4"/>
<rect x="276.9" y="717.0" width="7.1" height="2.8" rx="0.8" fill="#e4e4e4"/>
<rect x="263.8" y="742.9" width="7.4" height="2.8" rx="0.8" fill="#e4e4e4"/>
<rect x="265.2" y="750.0" width="7.1" height="2.8" rx="0.8" fill="#e4e4e4"/>
<rect x="265.2" y="756.6" width="7.1" height="3.3" rx="0.8" fill="#e4e4e4"/>
<rect x="262.4" y="734.8" width="7.4" height="3.1" rx="0.8" fill="#f0a818"/>
<rect x="266.2" y="770.9" width="5.7" height="4.6" rx="0.8" fill="#9cbcdc"/>
<path d="M621.5,995 V1055" fill="none" stroke="#6a90c8" stroke-width="0.9" stroke-opacity="0.9" />
<rect x="618.0" y="1043.0" width="7.0" height="3.0" rx="0.8" fill="#e4e4e4"/>
<rect x="619.1" y="1054.4" width="4.7" height="4.1" rx="0.8" fill="#6a78a8"/>
<path d="M683.6,1030 V1044" fill="none" stroke="#6a74b8" stroke-width="0.9" stroke-opacity="0.9" />
<path d="M684.1,1047.9 Q694.7,1049 694.7,1057.2 V1098" fill="none" stroke="#6a74b8" stroke-width="0.9" stroke-opacity="0.9" />
<path d="M705.2,1029 V1053.4" fill="none" stroke="#6a74b8" stroke-width="0.9" stroke-opacity="0.9" />
<path d="M703,1058 Q698,1061 696,1064" fill="none" stroke="#6a74b8" stroke-width="0.9" stroke-opacity="0.9" stroke-dasharray="1 1.5"/>
<rect x="680.4" y="1027.0" width="6.9" height="3.1" rx="0.8" fill="#e4e4e4"/>
<rect x="702.8" y="1026.1" width="6.8" height="3.0" rx="0.8" fill="#e4e4e4"/>
<rect x="680.4" y="1038.1" width="6.9" height="3.0" rx="0.8" fill="#e4e4e4"/>
<rect x="680.4" y="1044.2" width="6.9" height="2.9" rx="0.8" fill="#e4e4e4"/>
<rect x="691.0" y="1072.9" width="7.2" height="3.3" rx="0.8" fill="#e4e4e4"/>
<rect x="691.0" y="1079.0" width="7.2" height="3.0" rx="0.8" fill="#e4e4e4"/>
<rect x="691.0" y="1085.4" width="7.2" height="3.3" rx="0.8" fill="#e4e4e4"/>
<rect x="739.7" y="1047.0" width="7.3" height="2.9" rx="0.8" fill="#e4e4e4"/>
<rect x="702.2" y="1053.4" width="5.8" height="4.7" rx="0.8" fill="#9cbcdc"/>
<rect x="692.0" y="1064.6" width="7.1" height="2.9" rx="0.8" fill="#f0a818"/>
<rect x="692.0" y="1098.0" width="5.2" height="4.1" rx="0.8" fill="#9cbcdc"/>
<path d="M694.5,1088 V1098" fill="none" stroke="#6a90c8" stroke-width="0.9" stroke-opacity="0.9" />
<path d="M758.6,1030.6 V1036.3" fill="none" stroke="#6a74b8" stroke-width="0.9" stroke-opacity="0.9" />
<path d="M760,1039.2 L767,1042.1 M768,1045 L773,1047.9 M774,1050.8 L781,1053.8" fill="none" stroke="#6a74b8" stroke-width="0.9" stroke-opacity="0.9" />
<path d="M786.5,1035.4 Q783.1,1040 783.1,1052.7" fill="none" stroke="#6a74b8" stroke-width="0.9" stroke-opacity="0.9" stroke-dasharray="1 1.8"/>
<path d="M781.7,1057 V1100" fill="none" stroke="#6a74b8" stroke-width="0.9" stroke-opacity="0.9" />
<rect x="755.9" y="1027.7" width="6.5" height="2.9" rx="0.8" fill="#e4e4e4"/>
<rect x="756.2" y="1036.3" width="6.7" height="2.9" rx="0.8" fill="#e4e4e4"/>
<rect x="763.9" y="1042.1" width="7.2" height="2.9" rx="0.8" fill="#e4e4e4"/>
<rect x="770.1" y="1047.9" width="6.7" height="2.9" rx="0.8" fill="#e4e4e4"/>
<rect x="786.3" y="1032.0" width="6.7" height="2.9" rx="0.8" fill="#e4e4e4"/>
<rect x="778.6" y="1062.8" width="6.9" height="2.9" rx="0.8" fill="#e4e4e4"/>
<rect x="778.6" y="1068.8" width="6.9" height="3.1" rx="0.8" fill="#e4e4e4"/>
<rect x="778.6" y="1082.0" width="6.9" height="2.9" rx="0.8" fill="#e4e4e4"/>
<rect x="778.6" y="1053.8" width="6.9" height="3.2" rx="0.8" fill="#f0a818"/>
<rect x="778.8" y="1099.3" width="5.3" height="3.9" rx="0.8" fill="#9cbcdc"/>
<path d="M828.4,1030 V1057" fill="none" stroke="#6a74b8" stroke-width="0.9" stroke-opacity="0.9" />
<path d="M828.8,1059.9 Q829,1060.4 849.9,1060.4 Q855.7,1062 855.7,1068" fill="none" stroke="#6a74b8" stroke-width="0.9" stroke-opacity="0.9" />
<path d="M858.5,1052 V1067" fill="none" stroke="#6a74b8" stroke-width="0.9" stroke-opacity="0.9" stroke-dasharray="1 1.8"/>
<path d="M856.6,1070.8 V1079" fill="none" stroke="#7ea3c8" stroke-width="0.9" stroke-opacity="0.9" />
<path d="M856,1082 Q850,1084 848.4,1093 V1104" fill="none" stroke="#6a74b8" stroke-width="0.9" stroke-opacity="0.9" />
<rect x="824.9" y="1027.2" width="6.9" height="2.9" rx="0.8" fill="#e4e4e4"/>
<rect x="824.9" y="1033.0" width="6.9" height="2.9" rx="0.8" fill="#e4e4e4"/>
<rect x="824.9" y="1038.8" width="6.9" height="2.9" rx="0.8" fill="#e4e4e4"/>
<rect x="824.9" y="1050.3" width="6.9" height="2.9" rx="0.8" fill="#e4e4e4"/>
<rect x="824.9" y="1056.1" width="6.9" height="2.9" rx="0.8" fill="#e4e4e4"/>
<rect x="824.9" y="1044.5" width="6.9" height="2.9" rx="0.8" fill="#7a7a6a"/>
<rect x="855.2" y="1048.8" width="6.7" height="3.1" rx="0.8" fill="#e4e4e4"/>
<rect x="853.3" y="1072.9" width="6.7" height="2.9" rx="0.8" fill="#e4e4e4"/>
<rect x="853.3" y="1078.9" width="6.7" height="3.1" rx="0.8" fill="#e4e4e4"/>
<rect x="844.9" y="1092.9" width="6.9" height="3.1" rx="0.8" fill="#e4e4e4"/>
<rect x="853.3" y="1067.6" width="6.7" height="3.2" rx="0.8" fill="#f0a818"/>
<rect x="846.1" y="1103.7" width="4.8" height="3.8" rx="0.8" fill="#9cbcdc"/>
<path d="M900.4,1027.8 Q913.8,1029 913.8,1036.7 V1045" fill="none" stroke="#6a74b8" stroke-width="0.9" stroke-opacity="0.9" />
<path d="M922,1023 Q917,1028 916,1044" fill="none" stroke="#6a74b8" stroke-width="0.9" stroke-opacity="0.9" stroke-dasharray="1 1.8"/>
<path d="M913.8,1048.2 V1069" fill="none" stroke="#6a74b8" stroke-width="0.9" stroke-opacity="0.9" />
<path d="M914,1072 Q922,1076 922,1084.8" fill="none" stroke="#6a74b8" stroke-width="0.9" stroke-opacity="0.9" />
<path d="M922,1088 Q926,1092 926.4,1096.4" fill="none" stroke="#6a90c8" stroke-width="0.9" stroke-opacity="0.9" />
<rect x="897.0" y="1023.8" width="6.9" height="3.2" rx="0.8" fill="#e4e4e4"/>
<rect x="919.0" y="1020.0" width="7.0" height="3.0" rx="0.8" fill="#e4e4e4"/>
<rect x="909.9" y="1056.6" width="6.9" height="3.2" rx="0.8" fill="#e4e4e4"/>
<rect x="910.9" y="1068.8" width="7.1" height="3.2" rx="0.8" fill="#e4e4e4"/>
<rect x="918.3" y="1084.8" width="7.0" height="3.1" rx="0.8" fill="#e4e4e4"/>
<rect x="910.9" y="1044.9" width="7.1" height="3.3" rx="0.8" fill="#f0a818"/>
<rect x="923.8" y="1096.4" width="5.2" height="4.5" rx="0.8" fill="#9cbcdc"/>
<path d="M993.2,1025.8 Q988.4,1030.8 988.4,1060.8" fill="none" stroke="#6a74b8" stroke-width="0.9" stroke-opacity="0.9" stroke-dasharray="1 1.8"/>
<path d="M977.5,1051 Q988.4,1052 988.4,1060.8" fill="none" stroke="#6a74b8" stroke-width="0.9" stroke-opacity="0.9" />
<path d="M988.4,1063.8 V1094.8" fill="none" stroke="#6a74b8" stroke-width="0.9" stroke-opacity="0.9" />
<rect x="992.2" y="1022.8" width="7.1" height="3.2" rx="0.8" fill="#e4e4e4"/>
<rect x="974.0" y="1048.0" width="7.1" height="3.3" rx="0.8" fill="#e4e4e4"/>
<rect x="984.9" y="1060.8" width="7.0" height="3.3" rx="0.8" fill="#f0a818"/>
<rect x="984.8" y="1067.5" width="7.3" height="3.4" rx="0.8" fill="#e4e4e4"/>
<rect x="985.8" y="1076.7" width="7.3" height="3.4" rx="0.8" fill="#e4e4e4"/>
<rect x="985.8" y="1084.9" width="7.3" height="3.4" rx="0.8" fill="#e4e4e4"/>
<rect x="986.2" y="1094.8" width="5.0" height="4.5" rx="0.8" fill="#9cbcdc"/>
<path d="M1070,1028.2 Q1059.5,1033.2 1059.5,1059.7" fill="none" stroke="#6a74b8" stroke-width="0.9" stroke-opacity="0.9" stroke-dasharray="1 1.8"/>
<path d="M1048.4,1052.2 Q1059.5,1053.2 1059.5,1059.7" fill="none" stroke="#6a74b8" stroke-width="0.9" stroke-opacity="0.9" />
<path d="M1059.5,1062.7 V1093.6" fill="none" stroke="#6a74b8" stroke-width="0.9" stroke-opacity="0.9" />
<rect x="1069.0" y="1025.2" width="7.1" height="3.2" rx="0.8" fill="#e4e4e4"/>
<rect x="1044.9" y="1049.2" width="7.1" height="3.3" rx="0.8" fill="#e4e4e4"/>
<rect x="1056.0" y="1059.7" width="7.0" height="3.3" rx="0.8" fill="#f0a818"/>
<rect x="1056.0" y="1066.6" width="7.3" height="3.4" rx="0.8" fill="#e4e4e4"/>
<rect x="1056.5" y="1076.1" width="7.3" height="3.4" rx="0.8" fill="#e4e4e4"/>
<rect x="1056.5" y="1084.0" width="7.3" height="3.4" rx="0.8" fill="#e4e4e4"/>
<rect x="1056.9" y="1093.6" width="5.0" height="4.5" rx="0.8" fill="#9cbcdc"/>
<path d="M1141.2,1029 Q1130.4,1034 1130.4,1060.8" fill="none" stroke="#6a74b8" stroke-width="0.9" stroke-opacity="0.9" stroke-dasharray="1 1.8"/>
<path d="M1118.0,1052.6 Q1130.4,1053.6 1130.4,1060.8" fill="none" stroke="#6a74b8" stroke-width="0.9" stroke-opacity="0.9" />
<path d="M1130.4,1063.8 V1095.6" fill="none" stroke="#6a74b8" stroke-width="0.9" stroke-opacity="0.9" />
<rect x="1140.2" y="1026.0" width="7.1" height="3.2" rx="0.8" fill="#e4e4e4"/>
<rect x="1114.5" y="1049.6" width="7.1" height="3.3" rx="0.8" fill="#e4e4e4"/>
<rect x="1126.9" y="1060.8" width="7.0" height="3.3" rx="0.8" fill="#f0a818"/>
<rect x="1126.9" y="1067.8" width="7.3" height="3.4" rx="0.8" fill="#e4e4e4"/>
<rect x="1127.8" y="1077.1" width="7.3" height="3.4" rx="0.8" fill="#e4e4e4"/>
<rect x="1127.8" y="1084.8" width="7.3" height="3.4" rx="0.8" fill="#e4e4e4"/>
<rect x="1128.9" y="1095.6" width="5.0" height="4.5" rx="0.8" fill="#9cbcdc"/>
</svg></body></html>
